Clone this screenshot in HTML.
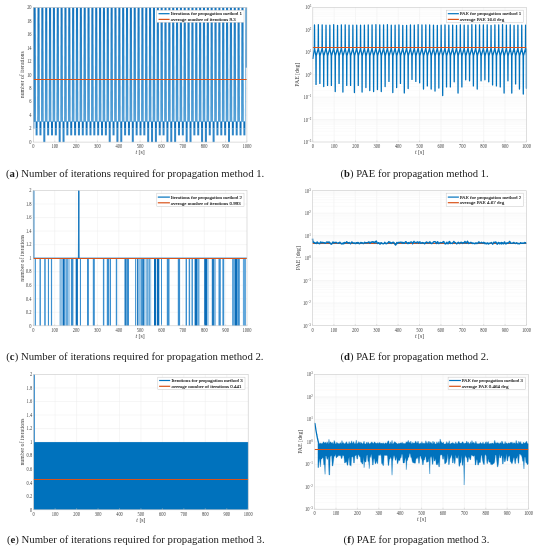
<!DOCTYPE html>
<html><head><meta charset="utf-8"><style>
html,body{margin:0;padding:0;background:#fff;width:537px;height:550px;overflow:hidden}
svg{display:block}
.tk{font-family:'Liberation Serif', serif;font-size:5.6px;fill:#444}
.lb{font-family:'Liberation Serif', serif;font-size:5.8px;fill:#3a3a3a}
.lg{font-family:'Liberation Serif', serif;font-size:5.03px;fill:#222;stroke:#222;stroke-width:0.12px}
.cap{font-family:'Liberation Serif', serif;font-size:10.2px;fill:#1a1a1a}
</style></head><body>
<svg width="537" height="550" viewBox="0 0 537 550">
<g>
<rect width="537" height="550" fill="#fff"/>
<line x1="54.75" y1="7.4" x2="54.75" y2="142.1" stroke="#ececec" stroke-width="0.5"/>
<line x1="76.1" y1="7.4" x2="76.1" y2="142.1" stroke="#ececec" stroke-width="0.5"/>
<line x1="97.45" y1="7.4" x2="97.45" y2="142.1" stroke="#ececec" stroke-width="0.5"/>
<line x1="118.8" y1="7.4" x2="118.8" y2="142.1" stroke="#ececec" stroke-width="0.5"/>
<line x1="140.15" y1="7.4" x2="140.15" y2="142.1" stroke="#ececec" stroke-width="0.5"/>
<line x1="161.5" y1="7.4" x2="161.5" y2="142.1" stroke="#ececec" stroke-width="0.5"/>
<line x1="182.85" y1="7.4" x2="182.85" y2="142.1" stroke="#ececec" stroke-width="0.5"/>
<line x1="204.2" y1="7.4" x2="204.2" y2="142.1" stroke="#ececec" stroke-width="0.5"/>
<line x1="225.55" y1="7.4" x2="225.55" y2="142.1" stroke="#ececec" stroke-width="0.5"/>
<line x1="33.4" y1="128.63" x2="246.9" y2="128.63" stroke="#ececec" stroke-width="0.5"/>
<line x1="33.4" y1="115.16" x2="246.9" y2="115.16" stroke="#ececec" stroke-width="0.5"/>
<line x1="33.4" y1="101.69" x2="246.9" y2="101.69" stroke="#ececec" stroke-width="0.5"/>
<line x1="33.4" y1="88.22" x2="246.9" y2="88.22" stroke="#ececec" stroke-width="0.5"/>
<line x1="33.4" y1="74.75" x2="246.9" y2="74.75" stroke="#ececec" stroke-width="0.5"/>
<line x1="33.4" y1="61.28" x2="246.9" y2="61.28" stroke="#ececec" stroke-width="0.5"/>
<line x1="33.4" y1="47.81" x2="246.9" y2="47.81" stroke="#ececec" stroke-width="0.5"/>
<line x1="33.4" y1="34.34" x2="246.9" y2="34.34" stroke="#ececec" stroke-width="0.5"/>
<line x1="33.4" y1="20.87" x2="246.9" y2="20.87" stroke="#ececec" stroke-width="0.5"/>
<defs><linearGradient id="ga" gradientUnits="userSpaceOnUse" x1="0" y1="7.4" x2="0" y2="121.89"><stop offset="0" stop-color="#1473bd"/><stop offset="0.35" stop-color="#2a86c9"/><stop offset="0.63" stop-color="#3b91cf"/><stop offset="0.88" stop-color="#4c9bd4"/><stop offset="1" stop-color="#5aa3d8"/></linearGradient></defs>
<rect x="33.4" y="7.4" width="212.2" height="114.49" fill="url(#ga)"/>
<rect x="245.6" y="7.4" width="1.3" height="60.3" fill="#2a86c9"/>
<polygon points="35.7,7.4 37.5,7.4 37.15,120.89 36.05,120.89" fill="#fff"/>
<rect x="35.6" y="121.89" width="2" height="6.73" fill="#0a6cb8"/>
<rect x="35.6" y="128.63" width="2" height="6.74" fill="#2f86c8"/>
<polygon points="39.55,7.4 41.35,7.4 41,120.89 39.9,120.89" fill="#fff"/>
<rect x="39.45" y="121.89" width="2" height="6.73" fill="#0a6cb8"/>
<rect x="39.45" y="128.63" width="2" height="6.74" fill="#2f86c8"/>
<polygon points="43.4,7.4 45.2,7.4 44.85,120.89 43.75,120.89" fill="#fff"/>
<rect x="43.3" y="121.89" width="2" height="6.73" fill="#0a6cb8"/>
<rect x="43.3" y="128.63" width="2" height="13.47" fill="#2f86c8"/>
<polygon points="47.24,7.4 49.04,7.4 48.69,120.89 47.59,120.89" fill="#fff"/>
<rect x="47.14" y="121.89" width="2" height="6.73" fill="#0a6cb8"/>
<rect x="47.14" y="128.63" width="2" height="6.74" fill="#2f86c8"/>
<polygon points="51.09,7.4 52.89,7.4 52.54,120.89 51.44,120.89" fill="#fff"/>
<rect x="50.99" y="121.89" width="2" height="6.73" fill="#0a6cb8"/>
<rect x="50.99" y="128.63" width="2" height="6.74" fill="#2f86c8"/>
<polygon points="54.94,7.4 56.74,7.4 56.39,120.89 55.29,120.89" fill="#fff"/>
<rect x="54.84" y="121.89" width="2" height="6.73" fill="#0a6cb8"/>
<rect x="54.84" y="128.63" width="2" height="6.74" fill="#2f86c8"/>
<polygon points="58.79,7.4 60.59,7.4 60.24,120.89 59.14,120.89" fill="#fff"/>
<rect x="58.69" y="121.89" width="2" height="6.73" fill="#0a6cb8"/>
<rect x="58.69" y="128.63" width="2" height="13.47" fill="#2f86c8"/>
<polygon points="62.64,7.4 64.44,7.4 64.09,120.89 62.99,120.89" fill="#fff"/>
<rect x="62.54" y="121.89" width="2" height="6.73" fill="#0a6cb8"/>
<rect x="62.54" y="128.63" width="2" height="13.47" fill="#2f86c8"/>
<polygon points="66.48,7.4 68.28,7.4 67.93,120.89 66.83,120.89" fill="#fff"/>
<rect x="66.38" y="121.89" width="2" height="6.73" fill="#0a6cb8"/>
<rect x="66.38" y="128.63" width="2" height="6.74" fill="#2f86c8"/>
<polygon points="70.33,7.4 72.13,7.4 71.78,120.89 70.68,120.89" fill="#fff"/>
<rect x="70.23" y="121.89" width="2" height="6.73" fill="#0a6cb8"/>
<rect x="70.23" y="128.63" width="2" height="6.74" fill="#2f86c8"/>
<polygon points="74.18,7.4 75.98,7.4 75.63,120.89 74.53,120.89" fill="#fff"/>
<rect x="74.08" y="121.89" width="2" height="6.73" fill="#0a6cb8"/>
<rect x="74.08" y="128.63" width="2" height="6.74" fill="#2f86c8"/>
<polygon points="78.03,7.4 79.83,7.4 79.48,120.89 78.38,120.89" fill="#fff"/>
<rect x="77.93" y="121.89" width="2" height="6.73" fill="#0a6cb8"/>
<rect x="77.93" y="128.63" width="2" height="6.74" fill="#2f86c8"/>
<polygon points="81.88,7.4 83.68,7.4 83.33,120.89 82.23,120.89" fill="#fff"/>
<rect x="81.78" y="121.89" width="2" height="6.73" fill="#0a6cb8"/>
<rect x="81.78" y="128.63" width="2" height="6.74" fill="#2f86c8"/>
<polygon points="85.72,7.4 87.52,7.4 87.17,120.89 86.07,120.89" fill="#fff"/>
<rect x="85.62" y="121.89" width="2" height="6.73" fill="#0a6cb8"/>
<rect x="85.62" y="128.63" width="2" height="6.74" fill="#2f86c8"/>
<polygon points="89.57,7.4 91.37,7.4 91.02,120.89 89.92,120.89" fill="#fff"/>
<rect x="89.47" y="121.89" width="2" height="6.73" fill="#0a6cb8"/>
<rect x="89.47" y="128.63" width="2" height="6.74" fill="#2f86c8"/>
<polygon points="93.42,7.4 95.22,7.4 94.87,120.89 93.77,120.89" fill="#fff"/>
<rect x="93.32" y="121.89" width="2" height="6.73" fill="#0a6cb8"/>
<rect x="93.32" y="128.63" width="2" height="6.74" fill="#2f86c8"/>
<polygon points="97.27,7.4 99.07,7.4 98.72,120.89 97.62,120.89" fill="#fff"/>
<rect x="97.17" y="121.89" width="2" height="6.73" fill="#0a6cb8"/>
<rect x="97.17" y="128.63" width="2" height="6.74" fill="#2f86c8"/>
<polygon points="101.12,7.4 102.92,7.4 102.57,120.89 101.47,120.89" fill="#fff"/>
<rect x="101.02" y="121.89" width="2" height="6.73" fill="#0a6cb8"/>
<rect x="101.02" y="128.63" width="2" height="6.74" fill="#2f86c8"/>
<polygon points="104.96,7.4 106.76,7.4 106.41,120.89 105.31,120.89" fill="#fff"/>
<rect x="104.86" y="121.89" width="2" height="6.73" fill="#0a6cb8"/>
<rect x="104.86" y="128.63" width="2" height="6.74" fill="#2f86c8"/>
<polygon points="108.81,7.4 110.61,7.4 110.26,120.89 109.16,120.89" fill="#fff"/>
<rect x="108.71" y="121.89" width="2" height="6.73" fill="#0a6cb8"/>
<rect x="108.71" y="128.63" width="2" height="13.47" fill="#2f86c8"/>
<polygon points="112.66,7.4 114.46,7.4 114.11,120.89 113.01,120.89" fill="#fff"/>
<rect x="112.56" y="121.89" width="2" height="6.73" fill="#0a6cb8"/>
<rect x="112.56" y="128.63" width="2" height="6.74" fill="#2f86c8"/>
<polygon points="116.51,7.4 118.31,7.4 117.96,120.89 116.86,120.89" fill="#fff"/>
<rect x="116.41" y="121.89" width="2" height="6.73" fill="#0a6cb8"/>
<rect x="116.41" y="128.63" width="2" height="13.47" fill="#2f86c8"/>
<polygon points="120.36,7.4 122.16,7.4 121.81,120.89 120.71,120.89" fill="#fff"/>
<rect x="120.26" y="121.89" width="2" height="6.73" fill="#0a6cb8"/>
<rect x="120.26" y="128.63" width="2" height="13.47" fill="#2f86c8"/>
<polygon points="124.2,7.4 126,7.4 125.65,120.89 124.55,120.89" fill="#fff"/>
<rect x="124.1" y="121.89" width="2" height="6.73" fill="#0a6cb8"/>
<rect x="124.1" y="128.63" width="2" height="6.74" fill="#2f86c8"/>
<polygon points="128.05,7.4 129.85,7.4 129.5,120.89 128.4,120.89" fill="#fff"/>
<rect x="127.95" y="121.89" width="2" height="6.73" fill="#0a6cb8"/>
<rect x="127.95" y="128.63" width="2" height="6.74" fill="#2f86c8"/>
<polygon points="131.9,7.4 133.7,7.4 133.35,120.89 132.25,120.89" fill="#fff"/>
<rect x="131.8" y="121.89" width="2" height="6.73" fill="#0a6cb8"/>
<rect x="131.8" y="128.63" width="2" height="13.47" fill="#2f86c8"/>
<polygon points="135.75,7.4 137.55,7.4 137.2,120.89 136.1,120.89" fill="#fff"/>
<rect x="135.65" y="121.89" width="2" height="6.73" fill="#0a6cb8"/>
<rect x="135.65" y="128.63" width="2" height="6.74" fill="#2f86c8"/>
<polygon points="139.6,7.4 141.4,7.4 141.05,120.89 139.95,120.89" fill="#fff"/>
<rect x="139.5" y="121.89" width="2" height="6.73" fill="#0a6cb8"/>
<rect x="139.5" y="128.63" width="2" height="6.74" fill="#2f86c8"/>
<polygon points="143.44,7.4 145.24,7.4 144.89,120.89 143.79,120.89" fill="#fff"/>
<rect x="143.34" y="121.89" width="2" height="6.73" fill="#0a6cb8"/>
<rect x="143.34" y="128.63" width="2" height="6.74" fill="#2f86c8"/>
<polygon points="147.29,7.4 149.09,7.4 148.74,120.89 147.64,120.89" fill="#fff"/>
<rect x="147.19" y="121.89" width="2" height="6.73" fill="#0a6cb8"/>
<rect x="147.19" y="128.63" width="2" height="13.47" fill="#2f86c8"/>
<polygon points="151.14,7.4 152.94,7.4 152.59,120.89 151.49,120.89" fill="#fff"/>
<rect x="151.04" y="121.89" width="2" height="6.73" fill="#0a6cb8"/>
<rect x="151.04" y="128.63" width="2" height="13.47" fill="#2f86c8"/>
<polygon points="154.99,7.4 156.79,7.4 156.44,120.89 155.34,120.89" fill="#fff"/>
<rect x="154.89" y="121.89" width="2" height="6.73" fill="#0a6cb8"/>
<rect x="154.89" y="128.63" width="2" height="13.47" fill="#2f86c8"/>
<polygon points="158.84,7.4 160.64,7.4 160.29,120.89 159.19,120.89" fill="#fff"/>
<rect x="158.74" y="121.89" width="2" height="6.73" fill="#0a6cb8"/>
<rect x="158.74" y="128.63" width="2" height="6.74" fill="#2f86c8"/>
<polygon points="162.68,7.4 164.48,7.4 164.13,120.89 163.03,120.89" fill="#fff"/>
<rect x="162.58" y="121.89" width="2" height="6.73" fill="#0a6cb8"/>
<rect x="162.58" y="128.63" width="2" height="6.74" fill="#2f86c8"/>
<polygon points="166.53,7.4 168.33,7.4 167.98,120.89 166.88,120.89" fill="#fff"/>
<rect x="166.43" y="121.89" width="2" height="6.73" fill="#0a6cb8"/>
<rect x="166.43" y="128.63" width="2" height="13.47" fill="#2f86c8"/>
<polygon points="170.38,7.4 172.18,7.4 171.83,120.89 170.73,120.89" fill="#fff"/>
<rect x="170.28" y="121.89" width="2" height="6.73" fill="#0a6cb8"/>
<rect x="170.28" y="128.63" width="2" height="13.47" fill="#2f86c8"/>
<polygon points="174.23,7.4 176.03,7.4 175.68,120.89 174.58,120.89" fill="#fff"/>
<rect x="174.13" y="121.89" width="2" height="6.73" fill="#0a6cb8"/>
<rect x="174.13" y="128.63" width="2" height="13.47" fill="#2f86c8"/>
<polygon points="178.08,7.4 179.88,7.4 179.53,120.89 178.43,120.89" fill="#fff"/>
<rect x="177.98" y="121.89" width="2" height="6.73" fill="#0a6cb8"/>
<rect x="177.98" y="128.63" width="2" height="6.74" fill="#2f86c8"/>
<polygon points="181.92,7.4 183.72,7.4 183.37,120.89 182.27,120.89" fill="#fff"/>
<rect x="181.82" y="121.89" width="2" height="6.73" fill="#0a6cb8"/>
<rect x="181.82" y="128.63" width="2" height="6.74" fill="#2f86c8"/>
<polygon points="185.77,7.4 187.57,7.4 187.22,120.89 186.12,120.89" fill="#fff"/>
<rect x="185.67" y="121.89" width="2" height="6.73" fill="#0a6cb8"/>
<rect x="185.67" y="128.63" width="2" height="13.47" fill="#2f86c8"/>
<polygon points="189.62,7.4 191.42,7.4 191.07,120.89 189.97,120.89" fill="#fff"/>
<rect x="189.52" y="121.89" width="2" height="6.73" fill="#0a6cb8"/>
<rect x="189.52" y="128.63" width="2" height="13.47" fill="#2f86c8"/>
<polygon points="193.47,7.4 195.27,7.4 194.92,120.89 193.82,120.89" fill="#fff"/>
<rect x="193.37" y="121.89" width="2" height="6.73" fill="#0a6cb8"/>
<rect x="193.37" y="128.63" width="2" height="6.74" fill="#2f86c8"/>
<polygon points="197.32,7.4 199.12,7.4 198.77,120.89 197.67,120.89" fill="#fff"/>
<rect x="197.22" y="121.89" width="2" height="6.73" fill="#0a6cb8"/>
<rect x="197.22" y="128.63" width="2" height="6.74" fill="#2f86c8"/>
<polygon points="201.16,7.4 202.96,7.4 202.61,120.89 201.51,120.89" fill="#fff"/>
<rect x="201.06" y="121.89" width="2" height="6.73" fill="#0a6cb8"/>
<rect x="201.06" y="128.63" width="2" height="13.47" fill="#2f86c8"/>
<polygon points="205.01,7.4 206.81,7.4 206.46,120.89 205.36,120.89" fill="#fff"/>
<rect x="204.91" y="121.89" width="2" height="6.73" fill="#0a6cb8"/>
<rect x="204.91" y="128.63" width="2" height="13.47" fill="#2f86c8"/>
<polygon points="208.86,7.4 210.66,7.4 210.31,120.89 209.21,120.89" fill="#fff"/>
<rect x="208.76" y="121.89" width="2" height="6.73" fill="#0a6cb8"/>
<rect x="208.76" y="128.63" width="2" height="6.74" fill="#2f86c8"/>
<polygon points="212.71,7.4 214.51,7.4 214.16,120.89 213.06,120.89" fill="#fff"/>
<rect x="212.61" y="121.89" width="2" height="6.73" fill="#0a6cb8"/>
<rect x="212.61" y="128.63" width="2" height="13.47" fill="#2f86c8"/>
<polygon points="216.56,7.4 218.36,7.4 218.01,120.89 216.91,120.89" fill="#fff"/>
<rect x="216.46" y="121.89" width="2" height="6.73" fill="#0a6cb8"/>
<rect x="216.46" y="128.63" width="2" height="6.74" fill="#2f86c8"/>
<polygon points="220.4,7.4 222.2,7.4 221.85,120.89 220.75,120.89" fill="#fff"/>
<rect x="220.3" y="121.89" width="2" height="6.73" fill="#0a6cb8"/>
<rect x="220.3" y="128.63" width="2" height="6.74" fill="#2f86c8"/>
<polygon points="224.25,7.4 226.05,7.4 225.7,120.89 224.6,120.89" fill="#fff"/>
<rect x="224.15" y="121.89" width="2" height="6.73" fill="#0a6cb8"/>
<rect x="224.15" y="128.63" width="2" height="6.74" fill="#2f86c8"/>
<polygon points="228.1,7.4 229.9,7.4 229.55,120.89 228.45,120.89" fill="#fff"/>
<rect x="228" y="121.89" width="2" height="6.73" fill="#0a6cb8"/>
<rect x="228" y="128.63" width="2" height="13.47" fill="#2f86c8"/>
<polygon points="231.95,7.4 233.75,7.4 233.4,120.89 232.3,120.89" fill="#fff"/>
<rect x="231.85" y="121.89" width="2" height="6.73" fill="#0a6cb8"/>
<rect x="231.85" y="128.63" width="2" height="6.74" fill="#2f86c8"/>
<polygon points="235.8,7.4 237.6,7.4 237.25,120.89 236.15,120.89" fill="#fff"/>
<rect x="235.7" y="121.89" width="2" height="6.73" fill="#0a6cb8"/>
<rect x="235.7" y="128.63" width="2" height="6.74" fill="#2f86c8"/>
<polygon points="239.64,7.4 241.44,7.4 241.09,120.89 239.99,120.89" fill="#fff"/>
<rect x="239.54" y="121.89" width="2" height="6.73" fill="#0a6cb8"/>
<rect x="239.54" y="128.63" width="2" height="6.74" fill="#2f86c8"/>
<polygon points="243.49,7.4 245.29,7.4 244.94,120.89 243.84,120.89" fill="#fff"/>
<rect x="243.39" y="121.89" width="2" height="6.73" fill="#0a6cb8"/>
<rect x="243.39" y="128.63" width="2" height="6.74" fill="#2f86c8"/>
<rect x="33.4" y="7.4" width="0.9" height="121.23" fill="#0a6cb8"/>
<line x1="33.4" y1="79.5" x2="246.9" y2="79.5" stroke="#d95319" stroke-width="1.0"/>
<rect x="33.4" y="7.4" width="213.5" height="134.7" fill="none" stroke="#c8c8c8" stroke-width="0.6"/>
<line x1="33.4" y1="142.1" x2="33.4" y2="140.6" stroke="#c8c8c8" stroke-width="0.5"/>
<text transform="translate(33.4,148.3) scale(0.8,1)" text-anchor="middle" class="tk">0</text>
<line x1="54.75" y1="142.1" x2="54.75" y2="140.6" stroke="#c8c8c8" stroke-width="0.5"/>
<text transform="translate(54.75,148.3) scale(0.8,1)" text-anchor="middle" class="tk">100</text>
<line x1="76.1" y1="142.1" x2="76.1" y2="140.6" stroke="#c8c8c8" stroke-width="0.5"/>
<text transform="translate(76.1,148.3) scale(0.8,1)" text-anchor="middle" class="tk">200</text>
<line x1="97.45" y1="142.1" x2="97.45" y2="140.6" stroke="#c8c8c8" stroke-width="0.5"/>
<text transform="translate(97.45,148.3) scale(0.8,1)" text-anchor="middle" class="tk">300</text>
<line x1="118.8" y1="142.1" x2="118.8" y2="140.6" stroke="#c8c8c8" stroke-width="0.5"/>
<text transform="translate(118.8,148.3) scale(0.8,1)" text-anchor="middle" class="tk">400</text>
<line x1="140.15" y1="142.1" x2="140.15" y2="140.6" stroke="#c8c8c8" stroke-width="0.5"/>
<text transform="translate(140.15,148.3) scale(0.8,1)" text-anchor="middle" class="tk">500</text>
<line x1="161.5" y1="142.1" x2="161.5" y2="140.6" stroke="#c8c8c8" stroke-width="0.5"/>
<text transform="translate(161.5,148.3) scale(0.8,1)" text-anchor="middle" class="tk">600</text>
<line x1="182.85" y1="142.1" x2="182.85" y2="140.6" stroke="#c8c8c8" stroke-width="0.5"/>
<text transform="translate(182.85,148.3) scale(0.8,1)" text-anchor="middle" class="tk">700</text>
<line x1="204.2" y1="142.1" x2="204.2" y2="140.6" stroke="#c8c8c8" stroke-width="0.5"/>
<text transform="translate(204.2,148.3) scale(0.8,1)" text-anchor="middle" class="tk">800</text>
<line x1="225.55" y1="142.1" x2="225.55" y2="140.6" stroke="#c8c8c8" stroke-width="0.5"/>
<text transform="translate(225.55,148.3) scale(0.8,1)" text-anchor="middle" class="tk">900</text>
<line x1="246.9" y1="142.1" x2="246.9" y2="140.6" stroke="#c8c8c8" stroke-width="0.5"/>
<text transform="translate(246.9,148.3) scale(0.8,1)" text-anchor="middle" class="tk">1000</text>
<text x="140.15" y="154.3" text-anchor="middle" class="lb"><tspan font-style="italic">t</tspan> [s]</text>
<text transform="translate(31.6,143.9) scale(0.8,1)" text-anchor="end" class="tk">0</text>
<text transform="translate(31.6,130.43) scale(0.8,1)" text-anchor="end" class="tk">2</text>
<text transform="translate(31.6,116.96) scale(0.8,1)" text-anchor="end" class="tk">4</text>
<text transform="translate(31.6,103.49) scale(0.8,1)" text-anchor="end" class="tk">6</text>
<text transform="translate(31.6,90.02) scale(0.8,1)" text-anchor="end" class="tk">8</text>
<text transform="translate(31.6,76.55) scale(0.8,1)" text-anchor="end" class="tk">10</text>
<text transform="translate(31.6,63.08) scale(0.8,1)" text-anchor="end" class="tk">12</text>
<text transform="translate(31.6,49.61) scale(0.8,1)" text-anchor="end" class="tk">14</text>
<text transform="translate(31.6,36.14) scale(0.8,1)" text-anchor="end" class="tk">16</text>
<text transform="translate(31.6,22.67) scale(0.8,1)" text-anchor="end" class="tk">18</text>
<text transform="translate(31.6,9.2) scale(0.8,1)" text-anchor="end" class="tk">20</text>
<text transform="translate(23.5,74.75) rotate(-90)" text-anchor="middle" class="lb">number of iterations</text>
<rect x="156.8" y="10.2" width="87.2" height="12.1" fill="#fff" stroke="#c8c8c8" stroke-width="0.5"/>
<line x1="158.5" y1="13.7" x2="169.6" y2="13.7" stroke="#0072bd" stroke-width="1.2"/>
<line x1="158.5" y1="19.4" x2="169.6" y2="19.4" stroke="#d95319" stroke-width="1.2"/>
<text x="170.8" y="15.4" class="lg">Iterations for propagation method 1</text>
<text x="170.8" y="21.1" class="lg">average number of iterations 9.3</text>
<text x="6" y="176.7" textLength="258.3" lengthAdjust="spacingAndGlyphs" class="cap">(<tspan font-weight="bold">a</tspan>) Number of iterations required for propagation method 1.</text>
<line x1="334.16" y1="7.4" x2="334.16" y2="142" stroke="#ececec" stroke-width="0.5"/>
<line x1="355.52" y1="7.4" x2="355.52" y2="142" stroke="#ececec" stroke-width="0.5"/>
<line x1="376.88" y1="7.4" x2="376.88" y2="142" stroke="#ececec" stroke-width="0.5"/>
<line x1="398.24" y1="7.4" x2="398.24" y2="142" stroke="#ececec" stroke-width="0.5"/>
<line x1="419.6" y1="7.4" x2="419.6" y2="142" stroke="#ececec" stroke-width="0.5"/>
<line x1="440.96" y1="7.4" x2="440.96" y2="142" stroke="#ececec" stroke-width="0.5"/>
<line x1="462.32" y1="7.4" x2="462.32" y2="142" stroke="#ececec" stroke-width="0.5"/>
<line x1="483.68" y1="7.4" x2="483.68" y2="142" stroke="#ececec" stroke-width="0.5"/>
<line x1="505.04" y1="7.4" x2="505.04" y2="142" stroke="#ececec" stroke-width="0.5"/>
<line x1="312.8" y1="135.25" x2="526.4" y2="135.25" stroke="#f4f4f4" stroke-width="0.4"/>
<line x1="312.8" y1="131.3" x2="526.4" y2="131.3" stroke="#f4f4f4" stroke-width="0.4"/>
<line x1="312.8" y1="128.49" x2="526.4" y2="128.49" stroke="#f4f4f4" stroke-width="0.4"/>
<line x1="312.8" y1="126.32" x2="526.4" y2="126.32" stroke="#f4f4f4" stroke-width="0.4"/>
<line x1="312.8" y1="124.54" x2="526.4" y2="124.54" stroke="#f4f4f4" stroke-width="0.4"/>
<line x1="312.8" y1="123.04" x2="526.4" y2="123.04" stroke="#f4f4f4" stroke-width="0.4"/>
<line x1="312.8" y1="121.74" x2="526.4" y2="121.74" stroke="#f4f4f4" stroke-width="0.4"/>
<line x1="312.8" y1="120.59" x2="526.4" y2="120.59" stroke="#f4f4f4" stroke-width="0.4"/>
<line x1="312.8" y1="112.81" x2="526.4" y2="112.81" stroke="#f4f4f4" stroke-width="0.4"/>
<line x1="312.8" y1="108.86" x2="526.4" y2="108.86" stroke="#f4f4f4" stroke-width="0.4"/>
<line x1="312.8" y1="106.06" x2="526.4" y2="106.06" stroke="#f4f4f4" stroke-width="0.4"/>
<line x1="312.8" y1="103.89" x2="526.4" y2="103.89" stroke="#f4f4f4" stroke-width="0.4"/>
<line x1="312.8" y1="102.11" x2="526.4" y2="102.11" stroke="#f4f4f4" stroke-width="0.4"/>
<line x1="312.8" y1="100.61" x2="526.4" y2="100.61" stroke="#f4f4f4" stroke-width="0.4"/>
<line x1="312.8" y1="99.31" x2="526.4" y2="99.31" stroke="#f4f4f4" stroke-width="0.4"/>
<line x1="312.8" y1="98.16" x2="526.4" y2="98.16" stroke="#f4f4f4" stroke-width="0.4"/>
<line x1="312.8" y1="90.38" x2="526.4" y2="90.38" stroke="#f4f4f4" stroke-width="0.4"/>
<line x1="312.8" y1="86.43" x2="526.4" y2="86.43" stroke="#f4f4f4" stroke-width="0.4"/>
<line x1="312.8" y1="83.63" x2="526.4" y2="83.63" stroke="#f4f4f4" stroke-width="0.4"/>
<line x1="312.8" y1="81.45" x2="526.4" y2="81.45" stroke="#f4f4f4" stroke-width="0.4"/>
<line x1="312.8" y1="79.68" x2="526.4" y2="79.68" stroke="#f4f4f4" stroke-width="0.4"/>
<line x1="312.8" y1="78.17" x2="526.4" y2="78.17" stroke="#f4f4f4" stroke-width="0.4"/>
<line x1="312.8" y1="76.87" x2="526.4" y2="76.87" stroke="#f4f4f4" stroke-width="0.4"/>
<line x1="312.8" y1="75.73" x2="526.4" y2="75.73" stroke="#f4f4f4" stroke-width="0.4"/>
<line x1="312.8" y1="67.95" x2="526.4" y2="67.95" stroke="#f4f4f4" stroke-width="0.4"/>
<line x1="312.8" y1="64" x2="526.4" y2="64" stroke="#f4f4f4" stroke-width="0.4"/>
<line x1="312.8" y1="61.19" x2="526.4" y2="61.19" stroke="#f4f4f4" stroke-width="0.4"/>
<line x1="312.8" y1="59.02" x2="526.4" y2="59.02" stroke="#f4f4f4" stroke-width="0.4"/>
<line x1="312.8" y1="57.24" x2="526.4" y2="57.24" stroke="#f4f4f4" stroke-width="0.4"/>
<line x1="312.8" y1="55.74" x2="526.4" y2="55.74" stroke="#f4f4f4" stroke-width="0.4"/>
<line x1="312.8" y1="54.44" x2="526.4" y2="54.44" stroke="#f4f4f4" stroke-width="0.4"/>
<line x1="312.8" y1="53.29" x2="526.4" y2="53.29" stroke="#f4f4f4" stroke-width="0.4"/>
<line x1="312.8" y1="45.51" x2="526.4" y2="45.51" stroke="#f4f4f4" stroke-width="0.4"/>
<line x1="312.8" y1="41.56" x2="526.4" y2="41.56" stroke="#f4f4f4" stroke-width="0.4"/>
<line x1="312.8" y1="38.76" x2="526.4" y2="38.76" stroke="#f4f4f4" stroke-width="0.4"/>
<line x1="312.8" y1="36.59" x2="526.4" y2="36.59" stroke="#f4f4f4" stroke-width="0.4"/>
<line x1="312.8" y1="34.81" x2="526.4" y2="34.81" stroke="#f4f4f4" stroke-width="0.4"/>
<line x1="312.8" y1="33.31" x2="526.4" y2="33.31" stroke="#f4f4f4" stroke-width="0.4"/>
<line x1="312.8" y1="32.01" x2="526.4" y2="32.01" stroke="#f4f4f4" stroke-width="0.4"/>
<line x1="312.8" y1="30.86" x2="526.4" y2="30.86" stroke="#f4f4f4" stroke-width="0.4"/>
<line x1="312.8" y1="23.08" x2="526.4" y2="23.08" stroke="#f4f4f4" stroke-width="0.4"/>
<line x1="312.8" y1="19.13" x2="526.4" y2="19.13" stroke="#f4f4f4" stroke-width="0.4"/>
<line x1="312.8" y1="16.33" x2="526.4" y2="16.33" stroke="#f4f4f4" stroke-width="0.4"/>
<line x1="312.8" y1="14.15" x2="526.4" y2="14.15" stroke="#f4f4f4" stroke-width="0.4"/>
<line x1="312.8" y1="12.38" x2="526.4" y2="12.38" stroke="#f4f4f4" stroke-width="0.4"/>
<line x1="312.8" y1="10.87" x2="526.4" y2="10.87" stroke="#f4f4f4" stroke-width="0.4"/>
<line x1="312.8" y1="9.57" x2="526.4" y2="9.57" stroke="#f4f4f4" stroke-width="0.4"/>
<line x1="312.8" y1="8.43" x2="526.4" y2="8.43" stroke="#f4f4f4" stroke-width="0.4"/>
<line x1="312.8" y1="119.57" x2="526.4" y2="119.57" stroke="#ececec" stroke-width="0.5"/>
<line x1="312.8" y1="97.13" x2="526.4" y2="97.13" stroke="#ececec" stroke-width="0.5"/>
<line x1="312.8" y1="74.7" x2="526.4" y2="74.7" stroke="#ececec" stroke-width="0.5"/>
<line x1="312.8" y1="52.27" x2="526.4" y2="52.27" stroke="#ececec" stroke-width="0.5"/>
<line x1="312.8" y1="29.83" x2="526.4" y2="29.83" stroke="#ececec" stroke-width="0.5"/>
<polyline points="312.80,59.02 314.33,48.99 314.50,24.93 314.67,48.99 315.87,55.74 316.04,84.40 316.21,55.74 318.13,48.99 318.17,48.99 318.34,24.74 318.51,48.99 319.71,55.74 319.88,83.40 320.05,55.74 321.96,48.99 322.01,48.99 322.18,24.82 322.35,48.99 323.54,55.74 323.71,86.50 323.88,55.74 325.80,48.99 325.84,48.99 326.01,25.20 326.18,48.99 327.38,55.74 327.55,85.40 327.72,55.74 329.64,48.99 329.68,48.99 329.85,25.14 330.02,48.99 331.22,55.74 331.39,85.40 331.56,55.74 333.48,48.99 333.52,48.99 333.69,24.76 333.86,48.99 335.06,55.74 335.23,91.50 335.40,55.74 337.32,48.99 337.36,48.99 337.53,25.34 337.70,48.99 338.90,55.74 339.07,83.40 339.24,55.74 341.15,48.99 341.20,48.99 341.37,24.79 341.54,48.99 342.73,55.74 342.90,92.10 343.07,55.74 344.99,48.99 345.03,48.99 345.20,24.81 345.37,48.99 346.57,55.74 346.74,85.40 346.91,55.74 348.83,48.99 348.87,48.99 349.04,25.03 349.21,48.99 350.41,55.74 350.58,85.40 350.75,55.74 352.67,48.99 352.71,48.99 352.88,25.14 353.05,48.99 354.25,55.74 354.42,92.50 354.59,55.74 356.51,48.99 356.55,48.99 356.72,25.16 356.89,48.99 358.09,55.74 358.26,85.40 358.43,55.74 360.34,48.99 360.39,48.99 360.56,25.18 360.73,48.99 361.92,55.74 362.09,92.10 362.26,55.74 364.18,48.99 364.22,48.99 364.39,25.05 364.56,48.99 365.76,55.74 365.93,87.50 366.10,55.74 368.02,48.99 368.06,48.99 368.23,25.01 368.40,48.99 369.60,55.74 369.77,90.50 369.94,55.74 371.86,48.99 371.90,48.99 372.07,24.97 372.24,48.99 373.44,55.74 373.61,91.50 373.78,55.74 375.70,48.99 375.74,48.99 375.91,24.68 376.08,48.99 377.28,55.74 377.45,89.50 377.62,55.74 379.53,48.99 379.58,48.99 379.75,24.81 379.92,48.99 381.11,55.74 381.28,91.50 381.45,55.74 383.37,48.99 383.41,48.99 383.58,24.93 383.75,48.99 384.95,55.74 385.12,86.50 385.29,55.74 387.21,48.99 387.25,48.99 387.42,24.68 387.59,48.99 388.79,55.74 388.96,81.40 389.13,55.74 391.05,48.99 391.09,48.99 391.26,25.20 391.43,48.99 392.63,55.74 392.80,92.50 392.97,55.74 394.89,48.99 394.93,48.99 395.10,25.24 395.27,48.99 396.47,55.74 396.64,87.50 396.81,55.74 398.72,48.99 398.77,48.99 398.94,24.93 399.11,48.99 400.30,55.74 400.47,83.40 400.64,55.74 402.56,48.99 402.60,48.99 402.77,25.32 402.94,48.99 404.14,55.74 404.31,92.90 404.48,55.74 406.40,48.99 406.44,48.99 406.61,25.32 406.78,48.99 407.98,55.74 408.15,88.50 408.32,55.74 410.24,48.99 410.28,48.99 410.45,25.00 410.62,48.99 411.82,55.74 411.99,79.40 412.16,55.74 414.08,48.99 414.12,48.99 414.29,25.03 414.46,48.99 415.66,55.74 415.83,81.40 416.00,55.74 417.91,48.99 417.96,48.99 418.13,24.73 418.30,48.99 419.49,55.74 419.66,82.80 419.83,55.74 421.75,48.99 421.79,48.99 421.96,24.92 422.13,48.99 423.33,55.74 423.50,89.00 423.67,55.74 425.59,48.99 425.63,48.99 425.80,25.00 425.97,48.99 427.17,55.74 427.34,85.90 427.51,55.74 429.43,48.99 429.47,48.99 429.64,25.01 429.81,48.99 431.01,55.74 431.18,89.00 431.35,55.74 433.27,48.99 433.31,48.99 433.48,25.18 433.65,48.99 434.85,55.74 435.02,91.00 435.19,55.74 437.10,48.99 437.15,48.99 437.32,25.34 437.49,48.99 438.68,55.74 438.85,88.00 439.02,55.74 440.94,48.99 440.98,48.99 441.15,25.22 441.32,48.99 442.52,55.74 442.69,95.50 442.86,55.74 444.78,48.99 444.82,48.99 444.99,24.88 445.16,48.99 446.36,55.74 446.53,86.90 446.70,55.74 448.62,48.99 448.66,48.99 448.83,25.21 449.00,48.99 450.20,55.74 450.37,86.90 450.54,55.74 452.46,48.99 452.50,48.99 452.67,25.10 452.84,48.99 454.04,55.74 454.21,81.80 454.38,55.74 456.29,48.99 456.34,48.99 456.51,25.34 456.68,48.99 457.87,55.74 458.04,93.10 458.21,55.74 460.13,48.99 460.17,48.99 460.34,24.79 460.51,48.99 461.71,55.74 461.88,86.90 462.05,55.74 463.97,48.99 464.01,48.99 464.18,25.24 464.35,48.99 465.55,55.74 465.72,79.80 465.89,55.74 467.81,48.99 467.85,48.99 468.02,25.17 468.19,48.99 469.39,55.74 469.56,80.80 469.73,55.74 471.65,48.99 471.69,48.99 471.86,24.75 472.03,48.99 473.23,55.74 473.40,85.90 473.57,55.74 475.48,48.99 475.53,48.99 475.70,25.00 475.87,48.99 477.06,55.74 477.23,89.00 477.40,55.74 479.32,48.99 479.36,48.99 479.53,24.78 479.70,48.99 480.90,55.74 481.07,80.80 481.24,55.74 483.16,48.99 483.20,48.99 483.37,24.92 483.54,48.99 484.74,55.74 484.91,79.80 485.08,55.74 487.00,48.99 487.04,48.99 487.21,24.85 487.38,48.99 488.58,55.74 488.75,81.80 488.92,55.74 490.84,48.99 490.88,48.99 491.05,25.29 491.22,48.99 492.42,55.74 492.59,84.90 492.76,55.74 494.67,48.99 494.72,48.99 494.89,24.98 495.06,48.99 496.25,55.74 496.42,85.90 496.59,55.74 498.51,48.99 498.55,48.99 498.72,25.00 498.89,48.99 500.09,55.74 500.26,86.90 500.43,55.74 502.35,48.99 502.39,48.99 502.56,24.76 502.73,48.99 503.93,55.74 504.10,93.10 504.27,55.74 506.19,48.99 506.23,48.99 506.40,25.10 506.57,48.99 507.77,55.74 507.94,80.80 508.11,55.74 510.03,48.99 510.07,48.99 510.24,24.94 510.41,48.99 511.61,55.74 511.78,93.10 511.95,55.74 513.86,48.99 513.91,48.99 514.08,25.31 514.25,48.99 515.44,55.74 515.61,83.90 515.78,55.74 517.70,48.99 517.74,48.99 517.91,25.09 518.08,48.99 519.28,55.74 519.45,89.00 519.62,55.74 521.54,48.99 521.58,48.99 521.75,25.13 521.92,48.99 523.12,55.74 523.29,94.10 523.46,55.74 525.38,48.99 525.42,48.99 525.59,25.25 525.76,48.99 526.40,55.74 526.40,88.30 526.40,55.74 526.40,48.99 526.40,54.44" fill="none" stroke="#0072bd" stroke-width="1.3" stroke-linejoin="round"/>
<line x1="312.8" y1="47.5" x2="526.4" y2="47.5" stroke="#d95319" stroke-width="1.0"/>
<rect x="312.8" y="7.4" width="213.6" height="134.6" fill="none" stroke="#c8c8c8" stroke-width="0.6"/>
<line x1="312.8" y1="142" x2="312.8" y2="140.5" stroke="#c8c8c8" stroke-width="0.5"/>
<text transform="translate(312.8,148.3) scale(0.8,1)" text-anchor="middle" class="tk">0</text>
<line x1="334.16" y1="142" x2="334.16" y2="140.5" stroke="#c8c8c8" stroke-width="0.5"/>
<text transform="translate(334.16,148.3) scale(0.8,1)" text-anchor="middle" class="tk">100</text>
<line x1="355.52" y1="142" x2="355.52" y2="140.5" stroke="#c8c8c8" stroke-width="0.5"/>
<text transform="translate(355.52,148.3) scale(0.8,1)" text-anchor="middle" class="tk">200</text>
<line x1="376.88" y1="142" x2="376.88" y2="140.5" stroke="#c8c8c8" stroke-width="0.5"/>
<text transform="translate(376.88,148.3) scale(0.8,1)" text-anchor="middle" class="tk">300</text>
<line x1="398.24" y1="142" x2="398.24" y2="140.5" stroke="#c8c8c8" stroke-width="0.5"/>
<text transform="translate(398.24,148.3) scale(0.8,1)" text-anchor="middle" class="tk">400</text>
<line x1="419.6" y1="142" x2="419.6" y2="140.5" stroke="#c8c8c8" stroke-width="0.5"/>
<text transform="translate(419.6,148.3) scale(0.8,1)" text-anchor="middle" class="tk">500</text>
<line x1="440.96" y1="142" x2="440.96" y2="140.5" stroke="#c8c8c8" stroke-width="0.5"/>
<text transform="translate(440.96,148.3) scale(0.8,1)" text-anchor="middle" class="tk">600</text>
<line x1="462.32" y1="142" x2="462.32" y2="140.5" stroke="#c8c8c8" stroke-width="0.5"/>
<text transform="translate(462.32,148.3) scale(0.8,1)" text-anchor="middle" class="tk">700</text>
<line x1="483.68" y1="142" x2="483.68" y2="140.5" stroke="#c8c8c8" stroke-width="0.5"/>
<text transform="translate(483.68,148.3) scale(0.8,1)" text-anchor="middle" class="tk">800</text>
<line x1="505.04" y1="142" x2="505.04" y2="140.5" stroke="#c8c8c8" stroke-width="0.5"/>
<text transform="translate(505.04,148.3) scale(0.8,1)" text-anchor="middle" class="tk">900</text>
<line x1="526.4" y1="142" x2="526.4" y2="140.5" stroke="#c8c8c8" stroke-width="0.5"/>
<text transform="translate(526.4,148.3) scale(0.8,1)" text-anchor="middle" class="tk">1000</text>
<text x="419.6" y="154.3" text-anchor="middle" class="lb"><tspan font-style="italic">t</tspan> [s]</text>
<text transform="translate(311.2,144) scale(0.8,1)" text-anchor="end" class="tk">10<tspan dy="-2.0" font-size="3.9px">−3</tspan></text>
<text transform="translate(311.2,121.57) scale(0.8,1)" text-anchor="end" class="tk">10<tspan dy="-2.0" font-size="3.9px">−2</tspan></text>
<text transform="translate(311.2,99.13) scale(0.8,1)" text-anchor="end" class="tk">10<tspan dy="-2.0" font-size="3.9px">−1</tspan></text>
<text transform="translate(311.2,76.7) scale(0.8,1)" text-anchor="end" class="tk">10<tspan dy="-2.0" font-size="3.9px">0</tspan></text>
<text transform="translate(311.2,54.27) scale(0.8,1)" text-anchor="end" class="tk">10<tspan dy="-2.0" font-size="3.9px">1</tspan></text>
<text transform="translate(311.2,31.83) scale(0.8,1)" text-anchor="end" class="tk">10<tspan dy="-2.0" font-size="3.9px">2</tspan></text>
<text transform="translate(311.2,9.4) scale(0.8,1)" text-anchor="end" class="tk">10<tspan dy="-2.0" font-size="3.9px">3</tspan></text>
<text transform="translate(298.8,74.7) rotate(-90)" text-anchor="middle" class="lb">PAE [deg]</text>
<rect x="446.5" y="10.2" width="77.2" height="12.1" fill="#fff" stroke="#c8c8c8" stroke-width="0.5"/>
<line x1="447.8" y1="13.7" x2="458.9" y2="13.7" stroke="#0072bd" stroke-width="1.2"/>
<line x1="447.8" y1="19.4" x2="458.9" y2="19.4" stroke="#d95319" stroke-width="1.2"/>
<text x="459.8" y="15.4" class="lg">PAE for propagation method 1</text>
<text x="459.8" y="21.1" class="lg">average PAE 16.6 deg</text>
<text x="340.5" y="176.7" textLength="148.3" lengthAdjust="spacingAndGlyphs" class="cap">(<tspan font-weight="bold">b</tspan>) PAE for propagation method 1.</text>
<line x1="54.67" y1="190.5" x2="54.67" y2="325.8" stroke="#ececec" stroke-width="0.5"/>
<line x1="76.04" y1="190.5" x2="76.04" y2="325.8" stroke="#ececec" stroke-width="0.5"/>
<line x1="97.41" y1="190.5" x2="97.41" y2="325.8" stroke="#ececec" stroke-width="0.5"/>
<line x1="118.78" y1="190.5" x2="118.78" y2="325.8" stroke="#ececec" stroke-width="0.5"/>
<line x1="140.15" y1="190.5" x2="140.15" y2="325.8" stroke="#ececec" stroke-width="0.5"/>
<line x1="161.52" y1="190.5" x2="161.52" y2="325.8" stroke="#ececec" stroke-width="0.5"/>
<line x1="182.89" y1="190.5" x2="182.89" y2="325.8" stroke="#ececec" stroke-width="0.5"/>
<line x1="204.26" y1="190.5" x2="204.26" y2="325.8" stroke="#ececec" stroke-width="0.5"/>
<line x1="225.63" y1="190.5" x2="225.63" y2="325.8" stroke="#ececec" stroke-width="0.5"/>
<line x1="33.3" y1="312.27" x2="247" y2="312.27" stroke="#ececec" stroke-width="0.5"/>
<line x1="33.3" y1="298.74" x2="247" y2="298.74" stroke="#ececec" stroke-width="0.5"/>
<line x1="33.3" y1="285.21" x2="247" y2="285.21" stroke="#ececec" stroke-width="0.5"/>
<line x1="33.3" y1="271.68" x2="247" y2="271.68" stroke="#ececec" stroke-width="0.5"/>
<line x1="33.3" y1="258.15" x2="247" y2="258.15" stroke="#ececec" stroke-width="0.5"/>
<line x1="33.3" y1="244.62" x2="247" y2="244.62" stroke="#ececec" stroke-width="0.5"/>
<line x1="33.3" y1="231.09" x2="247" y2="231.09" stroke="#ececec" stroke-width="0.5"/>
<line x1="33.3" y1="217.56" x2="247" y2="217.56" stroke="#ececec" stroke-width="0.5"/>
<line x1="33.3" y1="204.03" x2="247" y2="204.03" stroke="#ececec" stroke-width="0.5"/>
<rect x="34.7" y="258.15" width="1.2" height="67.65" fill="#3b8fcf"/>
<rect x="39.5" y="258.15" width="1.4" height="67.65" fill="#3b8fcf"/>
<rect x="44" y="258.15" width="1.9" height="67.65" fill="#62a7db"/>
<rect x="47.9" y="258.15" width="1.1" height="67.65" fill="#3b8fcf"/>
<rect x="50.9" y="258.15" width="1.2" height="67.65" fill="#3b8fcf"/>
<rect x="59.7" y="258.15" width="0.9" height="67.65" fill="#3b8fcf"/>
<rect x="60.6" y="258.15" width="2.2" height="67.65" fill="#93c3e7"/>
<rect x="62.8" y="258.15" width="2" height="67.65" fill="#0a6cb8"/>
<rect x="64.8" y="258.15" width="1.1" height="67.65" fill="#93c3e7"/>
<rect x="65.9" y="258.15" width="2.2" height="67.65" fill="#62a7db"/>
<rect x="68.1" y="258.15" width="1.7" height="67.65" fill="#93c3e7"/>
<rect x="70.9" y="258.15" width="2.5" height="67.65" fill="#3b8fcf"/>
<rect x="75.7" y="258.15" width="2.2" height="67.65" fill="#0a6cb8"/>
<rect x="79.9" y="258.15" width="1.1" height="67.65" fill="#3b8fcf"/>
<rect x="87" y="258.15" width="1.9" height="67.65" fill="#3b8fcf"/>
<rect x="92.8" y="258.15" width="2" height="67.65" fill="#3b8fcf"/>
<rect x="102.9" y="258.15" width="1.4" height="67.65" fill="#3b8fcf"/>
<rect x="106.8" y="258.15" width="2.2" height="67.65" fill="#3b8fcf"/>
<rect x="109.6" y="258.15" width="1.4" height="67.65" fill="#3b8fcf"/>
<rect x="115.8" y="258.15" width="1.4" height="67.65" fill="#3b8fcf"/>
<rect x="124.5" y="258.15" width="2" height="67.65" fill="#1f7bc0"/>
<rect x="126.5" y="258.15" width="2.5" height="67.65" fill="#3b8fcf"/>
<rect x="135.1" y="258.15" width="1.1" height="67.65" fill="#3b8fcf"/>
<rect x="137.1" y="258.15" width="1.4" height="67.65" fill="#0a6cb8"/>
<rect x="138.5" y="258.15" width="2.6" height="67.65" fill="#93c3e7"/>
<rect x="141.1" y="258.15" width="1.1" height="67.65" fill="#3b8fcf"/>
<rect x="142.2" y="258.15" width="2.3" height="67.65" fill="#1f7bc0"/>
<rect x="144.5" y="258.15" width="1.1" height="67.65" fill="#93c3e7"/>
<rect x="146.4" y="258.15" width="1.4" height="67.65" fill="#3b8fcf"/>
<rect x="147.8" y="258.15" width="1.4" height="67.65" fill="#93c3e7"/>
<rect x="149.2" y="258.15" width="1.1" height="67.65" fill="#3b8fcf"/>
<rect x="150.3" y="258.15" width="0.9" height="67.65" fill="#93c3e7"/>
<rect x="154" y="258.15" width="2.2" height="67.65" fill="#0a6cb8"/>
<rect x="157" y="258.15" width="2.3" height="67.65" fill="#0a6cb8"/>
<rect x="161" y="258.15" width="1" height="67.65" fill="#3b8fcf"/>
<rect x="166.8" y="258.15" width="2.7" height="67.65" fill="#3b8fcf"/>
<rect x="177.8" y="258.15" width="2.3" height="67.65" fill="#3b8fcf"/>
<rect x="185.6" y="258.15" width="1.4" height="67.65" fill="#3b8fcf"/>
<rect x="188.7" y="258.15" width="1.4" height="67.65" fill="#3b8fcf"/>
<rect x="191.5" y="258.15" width="1.4" height="67.65" fill="#3b8fcf"/>
<rect x="194.6" y="258.15" width="2.5" height="67.65" fill="#0a6cb8"/>
<rect x="197.1" y="258.15" width="2.4" height="67.65" fill="#62a7db"/>
<rect x="204.2" y="258.15" width="2.8" height="67.65" fill="#0a6cb8"/>
<rect x="207" y="258.15" width="1.7" height="67.65" fill="#93c3e7"/>
<rect x="211.8" y="258.15" width="2.8" height="67.65" fill="#1f7bc0"/>
<rect x="214.6" y="258.15" width="1.4" height="67.65" fill="#93c3e7"/>
<rect x="218.5" y="258.15" width="2.3" height="67.65" fill="#3b8fcf"/>
<rect x="222.4" y="258.15" width="1.8" height="67.65" fill="#3b8fcf"/>
<rect x="232" y="258.15" width="2.8" height="67.65" fill="#62a7db"/>
<rect x="234.8" y="258.15" width="2.5" height="67.65" fill="#0a6cb8"/>
<rect x="237.3" y="258.15" width="2.5" height="67.65" fill="#3b8fcf"/>
<rect x="242.9" y="258.15" width="3.1" height="67.65" fill="#62a7db"/>
<polyline points="33.30,190.50 33.41,190.50 33.51,258.15 78.18,258.15 78.39,258.15 78.70,190.50 78.92,258.15 247.00,258.15" fill="none" stroke="#0072bd" stroke-width="0.9" stroke-linejoin="round"/>
<line x1="33.8" y1="190.5" x2="33.8" y2="258.15" stroke="#2a84c7" stroke-width="1.3"/>
<line x1="78.7" y1="190.5" x2="78.7" y2="258.15" stroke="#1f7bc0" stroke-width="1.3"/>
<line x1="33.3" y1="258.5" x2="247" y2="258.5" stroke="#d95319" stroke-width="1.0"/>
<rect x="33.3" y="190.5" width="213.7" height="135.3" fill="none" stroke="#c8c8c8" stroke-width="0.6"/>
<line x1="33.3" y1="325.8" x2="33.3" y2="324.3" stroke="#c8c8c8" stroke-width="0.5"/>
<text transform="translate(33.3,332) scale(0.8,1)" text-anchor="middle" class="tk">0</text>
<line x1="54.67" y1="325.8" x2="54.67" y2="324.3" stroke="#c8c8c8" stroke-width="0.5"/>
<text transform="translate(54.67,332) scale(0.8,1)" text-anchor="middle" class="tk">100</text>
<line x1="76.04" y1="325.8" x2="76.04" y2="324.3" stroke="#c8c8c8" stroke-width="0.5"/>
<text transform="translate(76.04,332) scale(0.8,1)" text-anchor="middle" class="tk">200</text>
<line x1="97.41" y1="325.8" x2="97.41" y2="324.3" stroke="#c8c8c8" stroke-width="0.5"/>
<text transform="translate(97.41,332) scale(0.8,1)" text-anchor="middle" class="tk">300</text>
<line x1="118.78" y1="325.8" x2="118.78" y2="324.3" stroke="#c8c8c8" stroke-width="0.5"/>
<text transform="translate(118.78,332) scale(0.8,1)" text-anchor="middle" class="tk">400</text>
<line x1="140.15" y1="325.8" x2="140.15" y2="324.3" stroke="#c8c8c8" stroke-width="0.5"/>
<text transform="translate(140.15,332) scale(0.8,1)" text-anchor="middle" class="tk">500</text>
<line x1="161.52" y1="325.8" x2="161.52" y2="324.3" stroke="#c8c8c8" stroke-width="0.5"/>
<text transform="translate(161.52,332) scale(0.8,1)" text-anchor="middle" class="tk">600</text>
<line x1="182.89" y1="325.8" x2="182.89" y2="324.3" stroke="#c8c8c8" stroke-width="0.5"/>
<text transform="translate(182.89,332) scale(0.8,1)" text-anchor="middle" class="tk">700</text>
<line x1="204.26" y1="325.8" x2="204.26" y2="324.3" stroke="#c8c8c8" stroke-width="0.5"/>
<text transform="translate(204.26,332) scale(0.8,1)" text-anchor="middle" class="tk">800</text>
<line x1="225.63" y1="325.8" x2="225.63" y2="324.3" stroke="#c8c8c8" stroke-width="0.5"/>
<text transform="translate(225.63,332) scale(0.8,1)" text-anchor="middle" class="tk">900</text>
<line x1="247" y1="325.8" x2="247" y2="324.3" stroke="#c8c8c8" stroke-width="0.5"/>
<text transform="translate(247,332) scale(0.8,1)" text-anchor="middle" class="tk">1000</text>
<text x="140.15" y="338" text-anchor="middle" class="lb"><tspan font-style="italic">t</tspan> [s]</text>
<text transform="translate(31.6,327.6) scale(0.8,1)" text-anchor="end" class="tk">0</text>
<text transform="translate(31.6,314.07) scale(0.8,1)" text-anchor="end" class="tk">0.2</text>
<text transform="translate(31.6,300.54) scale(0.8,1)" text-anchor="end" class="tk">0.4</text>
<text transform="translate(31.6,287.01) scale(0.8,1)" text-anchor="end" class="tk">0.6</text>
<text transform="translate(31.6,273.48) scale(0.8,1)" text-anchor="end" class="tk">0.8</text>
<text transform="translate(31.6,259.95) scale(0.8,1)" text-anchor="end" class="tk">1</text>
<text transform="translate(31.6,246.42) scale(0.8,1)" text-anchor="end" class="tk">1.2</text>
<text transform="translate(31.6,232.89) scale(0.8,1)" text-anchor="end" class="tk">1.4</text>
<text transform="translate(31.6,219.36) scale(0.8,1)" text-anchor="end" class="tk">1.6</text>
<text transform="translate(31.6,205.83) scale(0.8,1)" text-anchor="end" class="tk">1.8</text>
<text transform="translate(31.6,192.3) scale(0.8,1)" text-anchor="end" class="tk">2</text>
<text transform="translate(23.5,258.15) rotate(-90)" text-anchor="middle" class="lb">number of iterations</text>
<rect x="156.8" y="193.2" width="87.2" height="13.1" fill="#fff" stroke="#c8c8c8" stroke-width="0.5"/>
<line x1="157.8" y1="197.1" x2="169.9" y2="197.1" stroke="#0072bd" stroke-width="1.2"/>
<line x1="157.8" y1="202.8" x2="169.9" y2="202.8" stroke="#d95319" stroke-width="1.2"/>
<text x="170.8" y="198.8" class="lg">Iterations for propagation method 2</text>
<text x="170.8" y="204.5" class="lg">average number of iterations 0.993</text>
<text x="6.3" y="360" textLength="257.2" lengthAdjust="spacingAndGlyphs" class="cap">(<tspan font-weight="bold">c</tspan>) Number of iterations required for propagation method 2.</text>
<line x1="333.9" y1="190.7" x2="333.9" y2="325.5" stroke="#ececec" stroke-width="0.5"/>
<line x1="355.3" y1="190.7" x2="355.3" y2="325.5" stroke="#ececec" stroke-width="0.5"/>
<line x1="376.7" y1="190.7" x2="376.7" y2="325.5" stroke="#ececec" stroke-width="0.5"/>
<line x1="398.1" y1="190.7" x2="398.1" y2="325.5" stroke="#ececec" stroke-width="0.5"/>
<line x1="419.5" y1="190.7" x2="419.5" y2="325.5" stroke="#ececec" stroke-width="0.5"/>
<line x1="440.9" y1="190.7" x2="440.9" y2="325.5" stroke="#ececec" stroke-width="0.5"/>
<line x1="462.3" y1="190.7" x2="462.3" y2="325.5" stroke="#ececec" stroke-width="0.5"/>
<line x1="483.7" y1="190.7" x2="483.7" y2="325.5" stroke="#ececec" stroke-width="0.5"/>
<line x1="505.1" y1="190.7" x2="505.1" y2="325.5" stroke="#ececec" stroke-width="0.5"/>
<line x1="312.5" y1="318.74" x2="526.5" y2="318.74" stroke="#f4f4f4" stroke-width="0.4"/>
<line x1="312.5" y1="314.78" x2="526.5" y2="314.78" stroke="#f4f4f4" stroke-width="0.4"/>
<line x1="312.5" y1="311.97" x2="526.5" y2="311.97" stroke="#f4f4f4" stroke-width="0.4"/>
<line x1="312.5" y1="309.8" x2="526.5" y2="309.8" stroke="#f4f4f4" stroke-width="0.4"/>
<line x1="312.5" y1="308.02" x2="526.5" y2="308.02" stroke="#f4f4f4" stroke-width="0.4"/>
<line x1="312.5" y1="306.51" x2="526.5" y2="306.51" stroke="#f4f4f4" stroke-width="0.4"/>
<line x1="312.5" y1="305.21" x2="526.5" y2="305.21" stroke="#f4f4f4" stroke-width="0.4"/>
<line x1="312.5" y1="304.06" x2="526.5" y2="304.06" stroke="#f4f4f4" stroke-width="0.4"/>
<line x1="312.5" y1="296.27" x2="526.5" y2="296.27" stroke="#f4f4f4" stroke-width="0.4"/>
<line x1="312.5" y1="292.31" x2="526.5" y2="292.31" stroke="#f4f4f4" stroke-width="0.4"/>
<line x1="312.5" y1="289.51" x2="526.5" y2="289.51" stroke="#f4f4f4" stroke-width="0.4"/>
<line x1="312.5" y1="287.33" x2="526.5" y2="287.33" stroke="#f4f4f4" stroke-width="0.4"/>
<line x1="312.5" y1="285.55" x2="526.5" y2="285.55" stroke="#f4f4f4" stroke-width="0.4"/>
<line x1="312.5" y1="284.05" x2="526.5" y2="284.05" stroke="#f4f4f4" stroke-width="0.4"/>
<line x1="312.5" y1="282.74" x2="526.5" y2="282.74" stroke="#f4f4f4" stroke-width="0.4"/>
<line x1="312.5" y1="281.59" x2="526.5" y2="281.59" stroke="#f4f4f4" stroke-width="0.4"/>
<line x1="312.5" y1="273.8" x2="526.5" y2="273.8" stroke="#f4f4f4" stroke-width="0.4"/>
<line x1="312.5" y1="269.85" x2="526.5" y2="269.85" stroke="#f4f4f4" stroke-width="0.4"/>
<line x1="312.5" y1="267.04" x2="526.5" y2="267.04" stroke="#f4f4f4" stroke-width="0.4"/>
<line x1="312.5" y1="264.86" x2="526.5" y2="264.86" stroke="#f4f4f4" stroke-width="0.4"/>
<line x1="312.5" y1="263.08" x2="526.5" y2="263.08" stroke="#f4f4f4" stroke-width="0.4"/>
<line x1="312.5" y1="261.58" x2="526.5" y2="261.58" stroke="#f4f4f4" stroke-width="0.4"/>
<line x1="312.5" y1="260.28" x2="526.5" y2="260.28" stroke="#f4f4f4" stroke-width="0.4"/>
<line x1="312.5" y1="259.13" x2="526.5" y2="259.13" stroke="#f4f4f4" stroke-width="0.4"/>
<line x1="312.5" y1="251.34" x2="526.5" y2="251.34" stroke="#f4f4f4" stroke-width="0.4"/>
<line x1="312.5" y1="247.38" x2="526.5" y2="247.38" stroke="#f4f4f4" stroke-width="0.4"/>
<line x1="312.5" y1="244.57" x2="526.5" y2="244.57" stroke="#f4f4f4" stroke-width="0.4"/>
<line x1="312.5" y1="242.4" x2="526.5" y2="242.4" stroke="#f4f4f4" stroke-width="0.4"/>
<line x1="312.5" y1="240.62" x2="526.5" y2="240.62" stroke="#f4f4f4" stroke-width="0.4"/>
<line x1="312.5" y1="239.11" x2="526.5" y2="239.11" stroke="#f4f4f4" stroke-width="0.4"/>
<line x1="312.5" y1="237.81" x2="526.5" y2="237.81" stroke="#f4f4f4" stroke-width="0.4"/>
<line x1="312.5" y1="236.66" x2="526.5" y2="236.66" stroke="#f4f4f4" stroke-width="0.4"/>
<line x1="312.5" y1="228.87" x2="526.5" y2="228.87" stroke="#f4f4f4" stroke-width="0.4"/>
<line x1="312.5" y1="224.91" x2="526.5" y2="224.91" stroke="#f4f4f4" stroke-width="0.4"/>
<line x1="312.5" y1="222.11" x2="526.5" y2="222.11" stroke="#f4f4f4" stroke-width="0.4"/>
<line x1="312.5" y1="219.93" x2="526.5" y2="219.93" stroke="#f4f4f4" stroke-width="0.4"/>
<line x1="312.5" y1="218.15" x2="526.5" y2="218.15" stroke="#f4f4f4" stroke-width="0.4"/>
<line x1="312.5" y1="216.65" x2="526.5" y2="216.65" stroke="#f4f4f4" stroke-width="0.4"/>
<line x1="312.5" y1="215.34" x2="526.5" y2="215.34" stroke="#f4f4f4" stroke-width="0.4"/>
<line x1="312.5" y1="214.19" x2="526.5" y2="214.19" stroke="#f4f4f4" stroke-width="0.4"/>
<line x1="312.5" y1="206.4" x2="526.5" y2="206.4" stroke="#f4f4f4" stroke-width="0.4"/>
<line x1="312.5" y1="202.45" x2="526.5" y2="202.45" stroke="#f4f4f4" stroke-width="0.4"/>
<line x1="312.5" y1="199.64" x2="526.5" y2="199.64" stroke="#f4f4f4" stroke-width="0.4"/>
<line x1="312.5" y1="197.46" x2="526.5" y2="197.46" stroke="#f4f4f4" stroke-width="0.4"/>
<line x1="312.5" y1="195.68" x2="526.5" y2="195.68" stroke="#f4f4f4" stroke-width="0.4"/>
<line x1="312.5" y1="194.18" x2="526.5" y2="194.18" stroke="#f4f4f4" stroke-width="0.4"/>
<line x1="312.5" y1="192.88" x2="526.5" y2="192.88" stroke="#f4f4f4" stroke-width="0.4"/>
<line x1="312.5" y1="191.73" x2="526.5" y2="191.73" stroke="#f4f4f4" stroke-width="0.4"/>
<line x1="312.5" y1="303.03" x2="526.5" y2="303.03" stroke="#ececec" stroke-width="0.5"/>
<line x1="312.5" y1="280.57" x2="526.5" y2="280.57" stroke="#ececec" stroke-width="0.5"/>
<line x1="312.5" y1="258.1" x2="526.5" y2="258.1" stroke="#ececec" stroke-width="0.5"/>
<line x1="312.5" y1="235.63" x2="526.5" y2="235.63" stroke="#ececec" stroke-width="0.5"/>
<line x1="312.5" y1="213.17" x2="526.5" y2="213.17" stroke="#ececec" stroke-width="0.5"/>
<line x1="312.5" y1="243.5" x2="526.5" y2="243.5" stroke="#d95319" stroke-width="1.0"/>
<polyline points="312.50,238.70 312.93,242.40 313.36,241.93 313.78,242.16 314.21,242.33 314.64,243.04 315.07,242.74 315.50,243.26 315.92,243.31 316.35,243.43 316.78,242.65 317.21,242.00 317.64,242.42 318.06,243.06 318.49,243.24 318.92,243.50 319.35,243.37 319.78,243.65 320.20,242.43 320.63,242.00 321.06,242.09 321.49,242.70 321.92,243.05 322.34,242.35 322.77,242.38 323.20,242.40 323.63,242.84 324.06,242.72 324.48,242.68 324.91,243.23 325.34,243.19 325.77,243.28 326.20,242.43 326.62,242.18 327.05,242.02 327.48,242.21 327.91,242.58 328.34,242.18 328.76,242.43 329.19,242.08 329.62,242.96 330.05,242.83 330.48,243.68 330.90,243.96 331.33,244.20 331.76,243.91 332.19,243.08 332.62,242.13 333.04,242.10 333.47,242.40 333.90,243.16 334.33,242.67 334.76,242.50 335.18,242.65 335.61,242.57 336.04,242.31 336.47,242.62 336.90,242.92 337.32,243.10 337.75,243.10 338.18,242.98 338.61,243.31 339.04,242.55 339.46,242.58 339.89,242.22 340.32,242.81 340.75,242.93 341.18,243.71 341.60,243.91 342.03,243.73 342.46,243.78 342.89,243.04 343.32,243.83 343.74,242.75 344.17,243.38 344.60,242.44 345.03,242.67 345.46,242.93 345.88,242.75 346.31,242.26 346.74,241.71 347.17,242.28 347.60,242.88 348.02,243.22 348.45,242.71 348.88,242.85 349.31,242.50 349.74,243.21 350.16,243.24 350.59,243.70 351.02,242.94 351.45,242.76 351.88,241.92 352.30,242.38 352.73,242.59 353.16,243.07 353.59,243.29 354.02,243.02 354.44,243.04 354.87,242.94 355.30,243.46 355.73,243.62 356.16,242.89 356.58,242.63 357.01,242.72 357.44,243.21 357.87,242.44 358.30,242.58 358.72,242.79 359.15,243.55 359.58,243.67 360.01,243.31 360.44,243.09 360.86,242.40 361.29,242.96 361.72,242.78 362.15,243.01 362.58,242.78 363.00,243.36 363.43,243.62 363.86,243.06 364.29,242.84 364.72,242.27 365.14,242.79 365.57,242.76 366.00,243.06 366.43,242.81 366.86,242.76 367.28,242.63 367.71,242.86 368.14,242.30 368.57,241.99 369.00,241.86 369.42,242.51 369.85,243.28 370.28,243.07 370.71,242.49 371.14,242.03 371.56,242.18 371.99,242.25 372.42,241.89 372.85,241.74 373.28,242.21 373.70,241.95 374.13,242.76 374.56,242.27 374.99,242.65 375.42,241.86 375.84,241.48 376.27,241.11 376.70,241.86 377.13,243.20 377.56,243.45 377.98,243.40 378.41,242.77 378.84,242.76 379.27,243.00 379.70,243.78 380.12,244.00 380.55,243.37 380.98,242.67 381.41,242.75 381.84,243.09 382.26,243.57 382.69,243.65 383.12,243.69 383.55,243.74 383.98,243.48 384.40,243.14 384.83,242.38 385.26,242.93 385.69,243.16 386.12,243.68 386.54,243.65 386.97,243.33 387.40,243.25 387.83,242.78 388.26,242.73 388.68,241.67 389.11,242.33 389.54,242.12 389.97,242.92 390.40,242.40 390.82,243.28 391.25,243.41 391.68,243.13 392.11,242.62 392.54,242.42 392.96,242.80 393.39,242.34 393.82,242.38 394.25,243.09 394.68,243.78 395.10,244.51 395.53,244.91 395.96,244.85 396.39,243.61 396.82,242.38 397.24,242.62 397.67,243.47 398.10,243.06 398.53,242.56 398.96,242.19 399.38,242.64 399.81,242.68 400.24,242.40 400.67,242.17 401.10,242.10 401.52,242.80 401.95,242.81 402.38,243.15 402.81,242.35 403.24,243.02 403.66,242.81 404.09,243.22 404.52,243.24 404.95,242.55 405.38,242.00 405.80,241.68 406.23,242.03 406.66,242.44 407.09,243.24 407.52,243.44 407.94,243.60 408.37,242.59 408.80,243.09 409.23,243.17 409.66,243.26 410.08,242.42 410.51,242.19 410.94,242.13 411.37,242.00 411.80,242.33 412.22,242.47 412.65,243.73 413.08,242.93 413.51,242.43 413.94,241.40 414.36,241.74 414.79,242.06 415.22,242.32 415.65,242.67 416.08,242.78 416.50,242.84 416.93,242.18 417.36,241.90 417.79,241.94 418.22,242.72 418.64,243.17 419.07,242.55 419.50,242.14 419.93,241.88 420.36,242.61 420.78,243.21 421.21,243.26 421.64,242.81 422.07,242.54 422.50,242.60 422.92,243.01 423.35,242.82 423.78,243.33 424.21,243.34 424.64,243.70 425.06,242.77 425.49,242.97 425.92,242.43 426.35,242.20 426.78,242.02 427.20,242.47 427.63,242.96 428.06,242.85 428.49,242.99 428.92,242.89 429.34,242.14 429.77,241.86 430.20,242.11 430.63,243.26 431.06,243.04 431.48,243.43 431.91,243.46 432.34,243.10 432.77,242.97 433.20,242.15 433.62,242.06 434.05,241.62 434.48,241.82 434.91,241.66 435.34,241.83 435.76,242.26 436.19,243.50 436.62,243.41 437.05,242.63 437.48,241.76 437.90,242.13 438.33,243.01 438.76,243.56 439.19,243.09 439.62,242.85 440.04,242.58 440.47,242.58 440.90,242.61 441.33,242.71 441.76,242.74 442.18,242.66 442.61,242.46 443.04,241.84 443.47,241.58 443.90,241.75 444.32,243.08 444.75,243.16 445.18,243.91 445.61,243.80 446.04,243.63 446.46,242.64 446.89,242.17 447.32,243.13 447.75,243.53 448.18,243.73 448.60,242.85 449.03,241.86 449.46,241.53 449.89,242.06 450.32,243.34 450.74,243.44 451.17,243.22 451.60,243.21 452.03,243.15 452.46,243.51 452.88,242.66 453.31,242.31 453.74,241.47 454.17,242.07 454.60,242.27 455.02,242.73 455.45,242.70 455.88,243.02 456.31,243.45 456.74,243.85 457.16,243.42 457.59,243.01 458.02,242.39 458.45,242.31 458.88,242.89 459.30,243.26 459.73,243.57 460.16,242.77 460.59,242.62 461.02,242.30 461.44,242.37 461.87,242.68 462.30,243.42 462.73,243.19 463.16,242.57 463.58,242.93 464.01,242.73 464.44,242.68 464.87,241.46 465.30,242.11 465.72,242.45 466.15,243.37 466.58,242.28 467.01,242.23 467.44,241.21 467.86,242.41 468.29,242.28 468.72,243.50 469.15,243.40 469.58,243.09 470.00,242.94 470.43,242.39 470.86,242.63 471.29,242.56 471.72,243.15 472.14,243.44 472.57,243.07 473.00,243.08 473.43,243.22 473.86,243.32 474.28,243.50 474.71,243.68 475.14,243.58 475.57,242.86 476.00,242.95 476.42,242.93 476.85,243.51 477.28,243.30 477.71,242.98 478.14,242.93 478.56,242.01 478.99,242.62 479.42,242.28 479.85,242.93 480.28,242.92 480.70,242.84 481.13,242.81 481.56,242.31 481.99,242.54 482.42,242.89 482.84,243.16 483.27,243.12 483.70,242.35 484.13,242.65 484.56,242.69 484.98,243.69 485.41,243.11 485.84,243.50 486.27,243.53 486.70,243.80 487.12,242.98 487.55,242.87 487.98,243.26 488.41,243.95 488.84,243.80 489.26,243.25 489.69,243.28 490.12,243.12 490.55,243.05 490.98,243.03 491.40,242.60 491.83,243.18 492.26,243.35 492.69,244.20 493.12,243.14 493.54,242.80 493.97,242.03 494.40,242.73 494.83,242.55 495.26,242.63 495.68,241.90 496.11,242.35 496.54,242.95 496.97,244.04 497.40,244.16 497.82,243.29 498.25,242.61 498.68,242.47 499.11,243.27 499.54,243.71 499.96,242.83 500.39,243.36 500.82,243.03 501.25,243.96 501.68,242.51 502.10,243.11 502.53,242.81 502.96,243.77 503.39,243.73 503.82,243.10 504.24,242.23 504.67,242.02 505.10,242.86 505.53,243.88 505.96,243.88 506.38,243.56 506.81,242.88 507.24,242.77 507.67,243.18 508.10,243.17 508.52,243.15 508.95,242.25 509.38,241.53 509.81,241.56 510.24,242.33 510.66,243.06 511.09,243.23 511.52,243.22 511.95,243.22 512.38,243.38 512.80,242.88 513.23,242.90 513.66,242.41 514.09,242.71 514.52,242.94 514.94,243.39 515.37,243.41 515.80,243.34 516.23,242.90 516.66,242.81 517.08,243.12 517.51,243.18 517.94,243.68 518.37,243.40 518.80,243.54 519.22,243.81 519.65,243.55 520.08,243.38 520.51,242.66 520.94,242.86 521.36,243.05 521.79,243.36 522.22,243.30 522.65,243.37 523.08,242.97 523.50,243.32 523.93,243.02 524.36,243.00 524.79,242.60 525.22,242.86 525.64,242.70 526.07,243.27 526.50,243.11" fill="none" stroke="#0072bd" stroke-width="1.45" stroke-linejoin="round"/>
<rect x="312.5" y="190.7" width="214" height="134.8" fill="none" stroke="#c8c8c8" stroke-width="0.6"/>
<line x1="312.5" y1="325.5" x2="312.5" y2="324" stroke="#c8c8c8" stroke-width="0.5"/>
<text transform="translate(312.5,332) scale(0.8,1)" text-anchor="middle" class="tk">0</text>
<line x1="333.9" y1="325.5" x2="333.9" y2="324" stroke="#c8c8c8" stroke-width="0.5"/>
<text transform="translate(333.9,332) scale(0.8,1)" text-anchor="middle" class="tk">100</text>
<line x1="355.3" y1="325.5" x2="355.3" y2="324" stroke="#c8c8c8" stroke-width="0.5"/>
<text transform="translate(355.3,332) scale(0.8,1)" text-anchor="middle" class="tk">200</text>
<line x1="376.7" y1="325.5" x2="376.7" y2="324" stroke="#c8c8c8" stroke-width="0.5"/>
<text transform="translate(376.7,332) scale(0.8,1)" text-anchor="middle" class="tk">300</text>
<line x1="398.1" y1="325.5" x2="398.1" y2="324" stroke="#c8c8c8" stroke-width="0.5"/>
<text transform="translate(398.1,332) scale(0.8,1)" text-anchor="middle" class="tk">400</text>
<line x1="419.5" y1="325.5" x2="419.5" y2="324" stroke="#c8c8c8" stroke-width="0.5"/>
<text transform="translate(419.5,332) scale(0.8,1)" text-anchor="middle" class="tk">500</text>
<line x1="440.9" y1="325.5" x2="440.9" y2="324" stroke="#c8c8c8" stroke-width="0.5"/>
<text transform="translate(440.9,332) scale(0.8,1)" text-anchor="middle" class="tk">600</text>
<line x1="462.3" y1="325.5" x2="462.3" y2="324" stroke="#c8c8c8" stroke-width="0.5"/>
<text transform="translate(462.3,332) scale(0.8,1)" text-anchor="middle" class="tk">700</text>
<line x1="483.7" y1="325.5" x2="483.7" y2="324" stroke="#c8c8c8" stroke-width="0.5"/>
<text transform="translate(483.7,332) scale(0.8,1)" text-anchor="middle" class="tk">800</text>
<line x1="505.1" y1="325.5" x2="505.1" y2="324" stroke="#c8c8c8" stroke-width="0.5"/>
<text transform="translate(505.1,332) scale(0.8,1)" text-anchor="middle" class="tk">900</text>
<line x1="526.5" y1="325.5" x2="526.5" y2="324" stroke="#c8c8c8" stroke-width="0.5"/>
<text transform="translate(526.5,332) scale(0.8,1)" text-anchor="middle" class="tk">1000</text>
<text x="419.5" y="338" text-anchor="middle" class="lb"><tspan font-style="italic">t</tspan> [s]</text>
<text transform="translate(310.8,327.5) scale(0.8,1)" text-anchor="end" class="tk">10<tspan dy="-2.0" font-size="3.9px">−3</tspan></text>
<text transform="translate(310.8,305.03) scale(0.8,1)" text-anchor="end" class="tk">10<tspan dy="-2.0" font-size="3.9px">−2</tspan></text>
<text transform="translate(310.8,282.57) scale(0.8,1)" text-anchor="end" class="tk">10<tspan dy="-2.0" font-size="3.9px">−1</tspan></text>
<text transform="translate(310.8,260.1) scale(0.8,1)" text-anchor="end" class="tk">10<tspan dy="-2.0" font-size="3.9px">0</tspan></text>
<text transform="translate(310.8,237.63) scale(0.8,1)" text-anchor="end" class="tk">10<tspan dy="-2.0" font-size="3.9px">1</tspan></text>
<text transform="translate(310.8,215.17) scale(0.8,1)" text-anchor="end" class="tk">10<tspan dy="-2.0" font-size="3.9px">2</tspan></text>
<text transform="translate(310.8,192.7) scale(0.8,1)" text-anchor="end" class="tk">10<tspan dy="-2.0" font-size="3.9px">3</tspan></text>
<text transform="translate(299.6,258.1) rotate(-90)" text-anchor="middle" class="lb">PAE [deg]</text>
<rect x="446.2" y="193.2" width="77.5" height="13.1" fill="#fff" stroke="#c8c8c8" stroke-width="0.5"/>
<line x1="447.8" y1="197.1" x2="458.9" y2="197.1" stroke="#0072bd" stroke-width="1.2"/>
<line x1="447.8" y1="202.7" x2="458.9" y2="202.7" stroke="#d95319" stroke-width="1.2"/>
<text x="459.8" y="198.8" class="lg">PAE for propagation method 2</text>
<text x="459.8" y="204.4" class="lg">average PAE 4.67 deg</text>
<text x="340.5" y="360" textLength="148.3" lengthAdjust="spacingAndGlyphs" class="cap">(<tspan font-weight="bold">d</tspan>) PAE for propagation method 2.</text>
<line x1="55.15" y1="374.4" x2="55.15" y2="509.8" stroke="#ececec" stroke-width="0.5"/>
<line x1="76.6" y1="374.4" x2="76.6" y2="509.8" stroke="#ececec" stroke-width="0.5"/>
<line x1="98.05" y1="374.4" x2="98.05" y2="509.8" stroke="#ececec" stroke-width="0.5"/>
<line x1="119.5" y1="374.4" x2="119.5" y2="509.8" stroke="#ececec" stroke-width="0.5"/>
<line x1="140.95" y1="374.4" x2="140.95" y2="509.8" stroke="#ececec" stroke-width="0.5"/>
<line x1="162.4" y1="374.4" x2="162.4" y2="509.8" stroke="#ececec" stroke-width="0.5"/>
<line x1="183.85" y1="374.4" x2="183.85" y2="509.8" stroke="#ececec" stroke-width="0.5"/>
<line x1="205.3" y1="374.4" x2="205.3" y2="509.8" stroke="#ececec" stroke-width="0.5"/>
<line x1="226.75" y1="374.4" x2="226.75" y2="509.8" stroke="#ececec" stroke-width="0.5"/>
<line x1="33.7" y1="496.26" x2="248.2" y2="496.26" stroke="#ececec" stroke-width="0.5"/>
<line x1="33.7" y1="482.72" x2="248.2" y2="482.72" stroke="#ececec" stroke-width="0.5"/>
<line x1="33.7" y1="469.18" x2="248.2" y2="469.18" stroke="#ececec" stroke-width="0.5"/>
<line x1="33.7" y1="455.64" x2="248.2" y2="455.64" stroke="#ececec" stroke-width="0.5"/>
<line x1="33.7" y1="442.1" x2="248.2" y2="442.1" stroke="#ececec" stroke-width="0.5"/>
<line x1="33.7" y1="428.56" x2="248.2" y2="428.56" stroke="#ececec" stroke-width="0.5"/>
<line x1="33.7" y1="415.02" x2="248.2" y2="415.02" stroke="#ececec" stroke-width="0.5"/>
<line x1="33.7" y1="401.48" x2="248.2" y2="401.48" stroke="#ececec" stroke-width="0.5"/>
<line x1="33.7" y1="387.94" x2="248.2" y2="387.94" stroke="#ececec" stroke-width="0.5"/>
<rect x="33.7" y="442.1" width="214.5" height="67.7" fill="#0072bd"/>
<line x1="34.2" y1="374.4" x2="34.2" y2="442.1" stroke="#2a84c7" stroke-width="1.3"/>
<line x1="33.7" y1="479.5" x2="248.2" y2="479.5" stroke="#d95319" stroke-width="1.0"/>
<rect x="33.7" y="374.4" width="214.5" height="135.4" fill="none" stroke="#c8c8c8" stroke-width="0.6"/>
<line x1="33.7" y1="509.8" x2="33.7" y2="508.3" stroke="#c8c8c8" stroke-width="0.5"/>
<text transform="translate(33.7,515.6) scale(0.8,1)" text-anchor="middle" class="tk">0</text>
<line x1="55.15" y1="509.8" x2="55.15" y2="508.3" stroke="#c8c8c8" stroke-width="0.5"/>
<text transform="translate(55.15,515.6) scale(0.8,1)" text-anchor="middle" class="tk">100</text>
<line x1="76.6" y1="509.8" x2="76.6" y2="508.3" stroke="#c8c8c8" stroke-width="0.5"/>
<text transform="translate(76.6,515.6) scale(0.8,1)" text-anchor="middle" class="tk">200</text>
<line x1="98.05" y1="509.8" x2="98.05" y2="508.3" stroke="#c8c8c8" stroke-width="0.5"/>
<text transform="translate(98.05,515.6) scale(0.8,1)" text-anchor="middle" class="tk">300</text>
<line x1="119.5" y1="509.8" x2="119.5" y2="508.3" stroke="#c8c8c8" stroke-width="0.5"/>
<text transform="translate(119.5,515.6) scale(0.8,1)" text-anchor="middle" class="tk">400</text>
<line x1="140.95" y1="509.8" x2="140.95" y2="508.3" stroke="#c8c8c8" stroke-width="0.5"/>
<text transform="translate(140.95,515.6) scale(0.8,1)" text-anchor="middle" class="tk">500</text>
<line x1="162.4" y1="509.8" x2="162.4" y2="508.3" stroke="#c8c8c8" stroke-width="0.5"/>
<text transform="translate(162.4,515.6) scale(0.8,1)" text-anchor="middle" class="tk">600</text>
<line x1="183.85" y1="509.8" x2="183.85" y2="508.3" stroke="#c8c8c8" stroke-width="0.5"/>
<text transform="translate(183.85,515.6) scale(0.8,1)" text-anchor="middle" class="tk">700</text>
<line x1="205.3" y1="509.8" x2="205.3" y2="508.3" stroke="#c8c8c8" stroke-width="0.5"/>
<text transform="translate(205.3,515.6) scale(0.8,1)" text-anchor="middle" class="tk">800</text>
<line x1="226.75" y1="509.8" x2="226.75" y2="508.3" stroke="#c8c8c8" stroke-width="0.5"/>
<text transform="translate(226.75,515.6) scale(0.8,1)" text-anchor="middle" class="tk">900</text>
<line x1="248.2" y1="509.8" x2="248.2" y2="508.3" stroke="#c8c8c8" stroke-width="0.5"/>
<text transform="translate(248.2,515.6) scale(0.8,1)" text-anchor="middle" class="tk">1000</text>
<text x="140.95" y="521.6" text-anchor="middle" class="lb"><tspan font-style="italic">t</tspan> [s]</text>
<text transform="translate(32.2,511.6) scale(0.8,1)" text-anchor="end" class="tk">0</text>
<text transform="translate(32.2,498.06) scale(0.8,1)" text-anchor="end" class="tk">0.2</text>
<text transform="translate(32.2,484.52) scale(0.8,1)" text-anchor="end" class="tk">0.4</text>
<text transform="translate(32.2,470.98) scale(0.8,1)" text-anchor="end" class="tk">0.6</text>
<text transform="translate(32.2,457.44) scale(0.8,1)" text-anchor="end" class="tk">0.8</text>
<text transform="translate(32.2,443.9) scale(0.8,1)" text-anchor="end" class="tk">1</text>
<text transform="translate(32.2,430.36) scale(0.8,1)" text-anchor="end" class="tk">1.2</text>
<text transform="translate(32.2,416.82) scale(0.8,1)" text-anchor="end" class="tk">1.4</text>
<text transform="translate(32.2,403.28) scale(0.8,1)" text-anchor="end" class="tk">1.6</text>
<text transform="translate(32.2,389.74) scale(0.8,1)" text-anchor="end" class="tk">1.8</text>
<text transform="translate(32.2,376.2) scale(0.8,1)" text-anchor="end" class="tk">2</text>
<text transform="translate(24.1,442.1) rotate(-90)" text-anchor="middle" class="lb">number of iterations</text>
<rect x="157.8" y="377.2" width="87.2" height="12.1" fill="#fff" stroke="#c8c8c8" stroke-width="0.5"/>
<line x1="159.1" y1="380.5" x2="170.2" y2="380.5" stroke="#0072bd" stroke-width="1.2"/>
<line x1="159.1" y1="386.3" x2="170.2" y2="386.3" stroke="#d95319" stroke-width="1.2"/>
<text x="171.4" y="382.2" class="lg">Iterations for propagation method 3</text>
<text x="171.4" y="388" class="lg">average number of iterations 0.441</text>
<text x="6.9" y="543.4" textLength="257.7" lengthAdjust="spacingAndGlyphs" class="cap">(<tspan font-weight="bold">e</tspan>) Number of iterations required for propagation method 3.</text>
<line x1="336" y1="374.4" x2="336" y2="509.2" stroke="#ececec" stroke-width="0.5"/>
<line x1="357.4" y1="374.4" x2="357.4" y2="509.2" stroke="#ececec" stroke-width="0.5"/>
<line x1="378.8" y1="374.4" x2="378.8" y2="509.2" stroke="#ececec" stroke-width="0.5"/>
<line x1="400.2" y1="374.4" x2="400.2" y2="509.2" stroke="#ececec" stroke-width="0.5"/>
<line x1="421.6" y1="374.4" x2="421.6" y2="509.2" stroke="#ececec" stroke-width="0.5"/>
<line x1="443" y1="374.4" x2="443" y2="509.2" stroke="#ececec" stroke-width="0.5"/>
<line x1="464.4" y1="374.4" x2="464.4" y2="509.2" stroke="#ececec" stroke-width="0.5"/>
<line x1="485.8" y1="374.4" x2="485.8" y2="509.2" stroke="#ececec" stroke-width="0.5"/>
<line x1="507.2" y1="374.4" x2="507.2" y2="509.2" stroke="#ececec" stroke-width="0.5"/>
<line x1="314.6" y1="502.44" x2="528.6" y2="502.44" stroke="#f4f4f4" stroke-width="0.4"/>
<line x1="314.6" y1="498.48" x2="528.6" y2="498.48" stroke="#f4f4f4" stroke-width="0.4"/>
<line x1="314.6" y1="495.67" x2="528.6" y2="495.67" stroke="#f4f4f4" stroke-width="0.4"/>
<line x1="314.6" y1="493.5" x2="528.6" y2="493.5" stroke="#f4f4f4" stroke-width="0.4"/>
<line x1="314.6" y1="491.72" x2="528.6" y2="491.72" stroke="#f4f4f4" stroke-width="0.4"/>
<line x1="314.6" y1="490.21" x2="528.6" y2="490.21" stroke="#f4f4f4" stroke-width="0.4"/>
<line x1="314.6" y1="488.91" x2="528.6" y2="488.91" stroke="#f4f4f4" stroke-width="0.4"/>
<line x1="314.6" y1="487.76" x2="528.6" y2="487.76" stroke="#f4f4f4" stroke-width="0.4"/>
<line x1="314.6" y1="479.97" x2="528.6" y2="479.97" stroke="#f4f4f4" stroke-width="0.4"/>
<line x1="314.6" y1="476.01" x2="528.6" y2="476.01" stroke="#f4f4f4" stroke-width="0.4"/>
<line x1="314.6" y1="473.21" x2="528.6" y2="473.21" stroke="#f4f4f4" stroke-width="0.4"/>
<line x1="314.6" y1="471.03" x2="528.6" y2="471.03" stroke="#f4f4f4" stroke-width="0.4"/>
<line x1="314.6" y1="469.25" x2="528.6" y2="469.25" stroke="#f4f4f4" stroke-width="0.4"/>
<line x1="314.6" y1="467.75" x2="528.6" y2="467.75" stroke="#f4f4f4" stroke-width="0.4"/>
<line x1="314.6" y1="466.44" x2="528.6" y2="466.44" stroke="#f4f4f4" stroke-width="0.4"/>
<line x1="314.6" y1="465.29" x2="528.6" y2="465.29" stroke="#f4f4f4" stroke-width="0.4"/>
<line x1="314.6" y1="457.5" x2="528.6" y2="457.5" stroke="#f4f4f4" stroke-width="0.4"/>
<line x1="314.6" y1="453.55" x2="528.6" y2="453.55" stroke="#f4f4f4" stroke-width="0.4"/>
<line x1="314.6" y1="450.74" x2="528.6" y2="450.74" stroke="#f4f4f4" stroke-width="0.4"/>
<line x1="314.6" y1="448.56" x2="528.6" y2="448.56" stroke="#f4f4f4" stroke-width="0.4"/>
<line x1="314.6" y1="446.78" x2="528.6" y2="446.78" stroke="#f4f4f4" stroke-width="0.4"/>
<line x1="314.6" y1="445.28" x2="528.6" y2="445.28" stroke="#f4f4f4" stroke-width="0.4"/>
<line x1="314.6" y1="443.98" x2="528.6" y2="443.98" stroke="#f4f4f4" stroke-width="0.4"/>
<line x1="314.6" y1="442.83" x2="528.6" y2="442.83" stroke="#f4f4f4" stroke-width="0.4"/>
<line x1="314.6" y1="435.04" x2="528.6" y2="435.04" stroke="#f4f4f4" stroke-width="0.4"/>
<line x1="314.6" y1="431.08" x2="528.6" y2="431.08" stroke="#f4f4f4" stroke-width="0.4"/>
<line x1="314.6" y1="428.27" x2="528.6" y2="428.27" stroke="#f4f4f4" stroke-width="0.4"/>
<line x1="314.6" y1="426.1" x2="528.6" y2="426.1" stroke="#f4f4f4" stroke-width="0.4"/>
<line x1="314.6" y1="424.32" x2="528.6" y2="424.32" stroke="#f4f4f4" stroke-width="0.4"/>
<line x1="314.6" y1="422.81" x2="528.6" y2="422.81" stroke="#f4f4f4" stroke-width="0.4"/>
<line x1="314.6" y1="421.51" x2="528.6" y2="421.51" stroke="#f4f4f4" stroke-width="0.4"/>
<line x1="314.6" y1="420.36" x2="528.6" y2="420.36" stroke="#f4f4f4" stroke-width="0.4"/>
<line x1="314.6" y1="412.57" x2="528.6" y2="412.57" stroke="#f4f4f4" stroke-width="0.4"/>
<line x1="314.6" y1="408.61" x2="528.6" y2="408.61" stroke="#f4f4f4" stroke-width="0.4"/>
<line x1="314.6" y1="405.81" x2="528.6" y2="405.81" stroke="#f4f4f4" stroke-width="0.4"/>
<line x1="314.6" y1="403.63" x2="528.6" y2="403.63" stroke="#f4f4f4" stroke-width="0.4"/>
<line x1="314.6" y1="401.85" x2="528.6" y2="401.85" stroke="#f4f4f4" stroke-width="0.4"/>
<line x1="314.6" y1="400.35" x2="528.6" y2="400.35" stroke="#f4f4f4" stroke-width="0.4"/>
<line x1="314.6" y1="399.04" x2="528.6" y2="399.04" stroke="#f4f4f4" stroke-width="0.4"/>
<line x1="314.6" y1="397.89" x2="528.6" y2="397.89" stroke="#f4f4f4" stroke-width="0.4"/>
<line x1="314.6" y1="390.1" x2="528.6" y2="390.1" stroke="#f4f4f4" stroke-width="0.4"/>
<line x1="314.6" y1="386.15" x2="528.6" y2="386.15" stroke="#f4f4f4" stroke-width="0.4"/>
<line x1="314.6" y1="383.34" x2="528.6" y2="383.34" stroke="#f4f4f4" stroke-width="0.4"/>
<line x1="314.6" y1="381.16" x2="528.6" y2="381.16" stroke="#f4f4f4" stroke-width="0.4"/>
<line x1="314.6" y1="379.38" x2="528.6" y2="379.38" stroke="#f4f4f4" stroke-width="0.4"/>
<line x1="314.6" y1="377.88" x2="528.6" y2="377.88" stroke="#f4f4f4" stroke-width="0.4"/>
<line x1="314.6" y1="376.58" x2="528.6" y2="376.58" stroke="#f4f4f4" stroke-width="0.4"/>
<line x1="314.6" y1="375.43" x2="528.6" y2="375.43" stroke="#f4f4f4" stroke-width="0.4"/>
<line x1="314.6" y1="486.73" x2="528.6" y2="486.73" stroke="#ececec" stroke-width="0.5"/>
<line x1="314.6" y1="464.27" x2="528.6" y2="464.27" stroke="#ececec" stroke-width="0.5"/>
<line x1="314.6" y1="441.8" x2="528.6" y2="441.8" stroke="#ececec" stroke-width="0.5"/>
<line x1="314.6" y1="419.33" x2="528.6" y2="419.33" stroke="#ececec" stroke-width="0.5"/>
<line x1="314.6" y1="396.87" x2="528.6" y2="396.87" stroke="#ececec" stroke-width="0.5"/>
<polygon points="317.92,443.41 318.57,443.74 319.22,443.67 319.87,443.53 320.52,443.12 321.17,443.71 321.82,443.14 322.47,443.45 323.12,442.14 323.77,441.83 324.42,443.29 325.07,442.35 325.72,442.59 326.37,443.75 327.02,441.76 327.67,442.69 328.32,443.88 328.97,439.22 329.62,443.53 330.27,441.86 330.92,442.16 331.57,443.15 332.22,442.19 332.87,443.54 333.52,443.69 334.17,440.39 334.82,441.71 335.47,443.94 336.12,443.74 336.77,442.21 337.42,443.06 338.07,443.46 338.72,443.51 339.37,443.93 340.02,442.61 340.67,442.94 341.32,444.02 341.97,440.53 342.62,443.22 343.27,442.49 343.92,443.50 344.57,443.64 345.22,443.56 345.87,442.60 346.52,441.64 347.17,443.23 347.82,444.02 348.47,443.64 349.12,441.55 349.77,443.55 350.42,443.20 351.07,442.80 351.72,440.72 352.37,443.60 353.02,442.75 353.67,441.54 354.32,443.20 354.97,444.08 355.62,442.96 356.27,439.96 356.92,443.91 357.57,443.29 358.22,443.08 358.87,441.55 359.52,442.40 360.17,443.63 360.82,441.93 361.47,442.92 362.12,443.29 362.77,444.04 363.42,442.74 364.07,441.16 364.72,443.86 365.37,444.03 366.02,443.80 366.67,442.09 367.32,444.05 367.97,441.90 368.62,442.65 369.27,443.82 369.92,443.80 370.57,442.92 371.22,442.53 371.87,441.84 372.52,442.73 373.17,443.59 373.82,443.11 374.47,441.82 375.12,442.54 375.77,443.36 376.42,443.36 377.07,443.39 377.72,442.56 378.37,443.74 379.02,442.46 379.67,442.73 380.32,442.82 380.97,443.79 381.62,443.05 382.27,443.09 382.92,443.71 383.57,442.72 384.22,443.99 384.87,443.57 385.52,442.73 386.17,443.15 386.82,443.44 387.47,442.28 388.12,440.74 388.77,441.10 389.42,444.01 390.07,443.77 390.72,441.80 391.37,443.91 392.02,440.28 392.67,443.92 393.32,443.42 393.97,442.86 394.62,441.63 395.27,441.94 395.92,443.10 396.57,442.96 397.22,443.89 397.87,443.78 398.52,443.17 399.17,443.60 399.82,443.35 400.47,442.76 401.12,443.56 401.77,442.56 402.42,442.40 403.07,444.06 403.72,442.99 404.37,443.57 405.02,443.77 405.67,443.05 406.32,441.71 406.97,442.54 407.62,441.98 408.27,440.30 408.92,442.67 409.57,442.21 410.22,443.03 410.87,441.01 411.52,443.75 412.17,443.55 412.82,442.28 413.47,443.36 414.12,443.09 414.77,443.34 415.42,441.21 416.07,441.54 416.72,443.25 417.37,443.07 418.02,441.06 418.67,443.14 419.32,443.81 419.97,443.45 420.62,443.08 421.27,443.59 421.92,441.56 422.57,443.55 423.22,442.99 423.87,443.60 424.52,443.19 425.17,443.59 425.82,440.64 426.47,442.27 427.12,443.72 427.77,442.43 428.42,441.13 429.07,444.07 429.72,441.40 430.37,442.76 431.02,442.29 431.67,443.35 432.32,443.98 432.97,441.10 433.62,443.59 434.27,441.83 434.92,443.65 435.57,443.94 436.22,443.63 436.87,441.70 437.52,443.29 438.17,443.18 438.82,441.58 439.47,444.06 440.12,438.94 440.77,441.13 441.42,442.12 442.07,443.04 442.72,443.09 443.37,441.94 444.02,444.02 444.67,444.00 445.32,443.66 445.97,443.96 446.62,441.60 447.27,443.97 447.92,442.47 448.57,443.54 449.22,440.68 449.87,444.00 450.52,443.74 451.17,443.30 451.82,443.04 452.47,442.43 453.12,443.79 453.77,442.72 454.42,443.70 455.07,443.92 455.72,441.77 456.37,443.08 457.02,443.98 457.67,443.32 458.32,441.86 458.97,441.17 459.62,443.09 460.27,443.31 460.92,443.10 461.57,443.19 462.22,442.01 462.87,441.74 463.52,442.97 464.17,443.66 464.82,443.10 465.47,443.29 466.12,442.72 466.77,440.98 467.42,443.54 468.07,441.85 468.72,443.13 469.37,443.54 470.02,443.63 470.67,441.72 471.32,443.80 471.97,440.51 472.62,442.97 473.27,442.72 473.92,442.27 474.57,443.45 475.22,443.13 475.87,441.13 476.52,443.05 477.17,443.93 477.82,443.56 478.47,443.94 479.12,443.15 479.77,444.04 480.42,442.25 481.07,443.46 481.72,443.51 482.37,443.49 483.02,441.92 483.67,443.85 484.32,443.71 484.97,443.79 485.62,442.06 486.27,441.65 486.92,443.94 487.57,442.28 488.22,441.54 488.87,443.68 489.52,443.97 490.17,443.02 490.82,443.96 491.47,443.14 492.12,443.27 492.77,443.01 493.42,444.04 494.07,442.63 494.72,440.24 495.37,442.59 496.02,443.40 496.67,442.84 497.32,442.92 497.97,442.38 498.62,443.37 499.27,444.06 499.92,442.63 500.57,442.66 501.22,443.39 501.87,440.95 502.52,441.93 503.17,443.48 503.82,443.88 504.47,443.82 505.12,441.44 505.77,443.40 506.42,442.90 507.07,443.27 507.72,443.98 508.37,442.77 509.02,443.15 509.67,443.23 510.32,442.35 510.97,442.90 511.62,441.93 512.27,443.77 512.92,442.36 513.57,443.38 514.22,442.69 514.87,443.20 515.52,443.86 516.17,440.37 516.82,442.95 517.47,443.35 518.12,443.97 518.77,441.24 519.42,442.28 520.07,443.37 520.72,441.49 521.37,443.68 522.02,444.08 522.67,443.94 523.32,442.12 523.97,443.62 524.62,442.88 525.27,442.45 525.92,442.80 526.57,440.96 527.22,442.94 527.87,443.72 528.52,443.87 528.52,463.48 527.87,464.51 527.22,464.51 526.57,462.71 525.92,462.71 525.27,457.28 524.62,457.28 523.97,469.00 523.32,461.20 522.67,461.20 522.02,457.38 521.37,455.26 520.72,455.26 520.07,453.65 519.42,454.56 518.77,463.18 518.12,463.18 517.47,455.71 516.82,458.29 516.17,458.29 515.52,463.53 514.87,463.53 514.22,457.78 513.57,457.78 512.92,460.91 512.27,463.62 511.62,463.62 510.97,462.33 510.32,461.53 509.67,455.54 509.02,456.60 508.37,456.60 507.72,460.97 507.07,460.97 506.42,453.79 505.77,459.22 505.12,461.76 504.47,461.76 503.82,456.37 503.17,463.95 502.52,463.95 501.87,455.66 501.22,455.66 500.57,457.90 499.92,457.90 499.27,454.04 498.62,462.61 497.97,466.85 497.32,466.85 496.67,460.67 496.02,454.75 495.37,455.35 494.72,461.66 494.07,463.47 493.42,463.47 492.77,464.47 492.12,464.47 491.47,464.61 490.82,464.61 490.17,462.34 489.52,462.34 488.87,461.82 488.22,458.87 487.57,463.44 486.92,463.44 486.27,456.08 485.62,454.81 484.97,454.81 484.32,464.44 483.67,464.44 483.02,462.86 482.37,459.98 481.72,454.85 481.07,456.05 480.42,462.54 479.77,462.54 479.12,462.52 478.47,465.08 477.82,465.08 477.17,459.83 476.52,459.83 475.87,464.96 475.22,464.96 474.57,455.26 473.92,456.14 473.27,456.14 472.62,456.07 471.97,455.04 471.32,455.61 470.67,459.63 470.02,459.63 469.37,457.76 468.72,456.75 468.07,462.10 467.42,462.10 466.77,457.59 466.12,457.59 465.47,455.35 464.82,458.11 464.17,485.00 463.52,457.78 462.87,465.20 462.22,465.20 461.57,455.15 460.92,462.64 460.27,462.64 459.62,466.26 458.97,466.26 458.32,455.04 457.67,458.22 457.02,458.22 456.37,458.06 455.72,454.83 455.07,463.43 454.42,463.43 453.77,457.71 453.12,462.95 452.47,462.95 451.82,454.60 451.17,455.93 450.52,457.66 449.87,459.12 449.22,464.57 448.57,464.57 447.92,453.63 447.27,458.56 446.62,462.06 445.97,463.05 445.32,463.66 444.67,463.66 444.02,455.41 443.37,459.14 442.72,459.14 442.07,455.37 441.42,454.87 440.77,454.87 440.12,455.78 439.47,466.78 438.82,466.78 438.17,462.18 437.52,464.76 436.87,464.76 436.22,464.38 435.57,458.62 434.92,461.05 434.27,461.05 433.62,456.04 432.97,464.36 432.32,464.36 431.67,457.79 431.02,456.14 430.37,457.95 429.72,474.00 429.07,457.88 428.42,461.69 427.77,461.69 427.12,462.24 426.47,462.24 425.82,456.76 425.17,456.76 424.52,459.90 423.87,459.90 423.22,464.70 422.57,464.70 421.92,459.67 421.27,458.43 420.62,456.05 419.97,456.05 419.32,463.31 418.67,463.31 418.02,456.65 417.37,458.38 416.72,458.57 416.07,458.57 415.42,463.19 414.77,463.19 414.12,463.10 413.47,462.80 412.82,462.80 412.17,461.28 411.52,457.61 410.87,457.61 410.22,453.79 409.57,453.55 408.92,457.31 408.27,457.31 407.62,460.40 406.97,460.40 406.32,469.70 405.67,457.42 405.02,459.46 404.37,463.05 403.72,463.05 403.07,462.98 402.42,454.43 401.77,454.36 401.12,457.65 400.47,457.65 399.82,460.60 399.17,460.60 398.52,460.32 397.87,463.59 397.22,463.59 396.57,456.76 395.92,460.18 395.27,460.18 394.62,456.77 393.97,455.18 393.32,457.87 392.67,461.46 392.02,475.20 391.37,459.53 390.72,456.69 390.07,458.75 389.42,459.61 388.77,465.40 388.12,465.40 387.47,455.85 386.82,455.85 386.17,455.06 385.52,455.53 384.87,455.53 384.22,455.37 383.57,465.44 382.92,465.44 382.27,463.61 381.62,463.61 380.97,454.09 380.32,455.51 379.67,455.51 379.02,454.72 378.37,455.98 377.72,463.43 377.07,463.43 376.42,460.64 375.77,463.66 375.12,463.66 374.47,458.83 373.82,458.83 373.17,464.95 372.52,464.95 371.87,458.27 371.22,453.88 370.57,457.34 369.92,457.34 369.27,468.70 368.62,461.57 367.97,461.57 367.32,454.81 366.67,455.68 366.02,462.10 365.37,462.10 364.72,461.05 364.07,467.70 363.42,457.02 362.77,463.99 362.12,463.99 361.47,462.13 360.82,462.13 360.17,456.74 359.52,456.74 358.87,455.09 358.22,454.67 357.57,459.06 356.92,459.06 356.27,454.79 355.62,455.63 354.97,455.63 354.32,463.04 353.67,463.04 353.02,456.44 352.37,457.00 351.72,457.00 351.07,466.20 350.42,465.32 349.77,465.32 349.12,456.91 348.47,460.12 347.82,465.27 347.17,465.27 346.52,461.69 345.87,461.69 345.22,462.97 344.57,462.97 343.92,456.46 343.27,455.49 342.62,455.49 341.97,458.61 341.32,458.61 340.67,455.75 340.02,455.87 339.37,455.87 338.72,455.16 338.07,456.48 337.42,456.48 336.77,457.71 336.12,457.71 335.47,454.16 334.82,456.30 334.17,456.30 333.52,461.33 332.87,465.99 332.22,465.99 331.57,455.63 330.92,455.63 330.27,457.09 329.62,474.94 328.97,474.94 328.32,456.74 327.67,459.20 327.02,459.20 326.37,456.01 325.72,456.01 325.07,474.40 324.42,464.83 323.77,464.83 323.12,457.65 322.47,457.65 321.82,458.94 321.17,458.94 320.52,467.00 319.87,462.53 319.22,458.60 318.57,467.57 317.92,467.57" fill="#0072bd" stroke="#0072bd" stroke-width="0.3" stroke-linejoin="round"/>
<polyline points="314.90,423.30 315.40,426.50 316.00,430.50 316.70,434.50 317.40,438.00 318.20,441.50 318.80,444.00" fill="none" stroke="#0072bd" stroke-width="1.3" stroke-linecap="round"/>
<line x1="314.6" y1="449.5" x2="528.6" y2="449.5" stroke="#d95319" stroke-width="1.0"/>
<rect x="314.6" y="374.4" width="214" height="134.8" fill="none" stroke="#c8c8c8" stroke-width="0.6"/>
<line x1="314.6" y1="509.2" x2="314.6" y2="507.7" stroke="#c8c8c8" stroke-width="0.5"/>
<text transform="translate(314.6,515.3) scale(0.8,1)" text-anchor="middle" class="tk">0</text>
<line x1="336" y1="509.2" x2="336" y2="507.7" stroke="#c8c8c8" stroke-width="0.5"/>
<text transform="translate(336,515.3) scale(0.8,1)" text-anchor="middle" class="tk">100</text>
<line x1="357.4" y1="509.2" x2="357.4" y2="507.7" stroke="#c8c8c8" stroke-width="0.5"/>
<text transform="translate(357.4,515.3) scale(0.8,1)" text-anchor="middle" class="tk">200</text>
<line x1="378.8" y1="509.2" x2="378.8" y2="507.7" stroke="#c8c8c8" stroke-width="0.5"/>
<text transform="translate(378.8,515.3) scale(0.8,1)" text-anchor="middle" class="tk">300</text>
<line x1="400.2" y1="509.2" x2="400.2" y2="507.7" stroke="#c8c8c8" stroke-width="0.5"/>
<text transform="translate(400.2,515.3) scale(0.8,1)" text-anchor="middle" class="tk">400</text>
<line x1="421.6" y1="509.2" x2="421.6" y2="507.7" stroke="#c8c8c8" stroke-width="0.5"/>
<text transform="translate(421.6,515.3) scale(0.8,1)" text-anchor="middle" class="tk">500</text>
<line x1="443" y1="509.2" x2="443" y2="507.7" stroke="#c8c8c8" stroke-width="0.5"/>
<text transform="translate(443,515.3) scale(0.8,1)" text-anchor="middle" class="tk">600</text>
<line x1="464.4" y1="509.2" x2="464.4" y2="507.7" stroke="#c8c8c8" stroke-width="0.5"/>
<text transform="translate(464.4,515.3) scale(0.8,1)" text-anchor="middle" class="tk">700</text>
<line x1="485.8" y1="509.2" x2="485.8" y2="507.7" stroke="#c8c8c8" stroke-width="0.5"/>
<text transform="translate(485.8,515.3) scale(0.8,1)" text-anchor="middle" class="tk">800</text>
<line x1="507.2" y1="509.2" x2="507.2" y2="507.7" stroke="#c8c8c8" stroke-width="0.5"/>
<text transform="translate(507.2,515.3) scale(0.8,1)" text-anchor="middle" class="tk">900</text>
<line x1="528.6" y1="509.2" x2="528.6" y2="507.7" stroke="#c8c8c8" stroke-width="0.5"/>
<text transform="translate(528.6,515.3) scale(0.8,1)" text-anchor="middle" class="tk">1000</text>
<text x="421.6" y="521.3" text-anchor="middle" class="lb"><tspan font-style="italic">t</tspan> [s]</text>
<text transform="translate(312.8,511.2) scale(0.8,1)" text-anchor="end" class="tk">10<tspan dy="-2.0" font-size="3.9px">−3</tspan></text>
<text transform="translate(312.8,488.73) scale(0.8,1)" text-anchor="end" class="tk">10<tspan dy="-2.0" font-size="3.9px">−2</tspan></text>
<text transform="translate(312.8,466.27) scale(0.8,1)" text-anchor="end" class="tk">10<tspan dy="-2.0" font-size="3.9px">−1</tspan></text>
<text transform="translate(312.8,443.8) scale(0.8,1)" text-anchor="end" class="tk">10<tspan dy="-2.0" font-size="3.9px">0</tspan></text>
<text transform="translate(312.8,421.33) scale(0.8,1)" text-anchor="end" class="tk">10<tspan dy="-2.0" font-size="3.9px">1</tspan></text>
<text transform="translate(312.8,398.87) scale(0.8,1)" text-anchor="end" class="tk">10<tspan dy="-2.0" font-size="3.9px">2</tspan></text>
<text transform="translate(312.8,376.4) scale(0.8,1)" text-anchor="end" class="tk">10<tspan dy="-2.0" font-size="3.9px">3</tspan></text>
<text transform="translate(301.9,441.8) rotate(-90)" text-anchor="middle" class="lb">PAE [deg]</text>
<rect x="448.1" y="377.2" width="77.6" height="12.1" fill="#fff" stroke="#c8c8c8" stroke-width="0.5"/>
<line x1="449.1" y1="380.5" x2="460.9" y2="380.5" stroke="#0072bd" stroke-width="1.2"/>
<line x1="449.1" y1="386.3" x2="460.9" y2="386.3" stroke="#d95319" stroke-width="1.2"/>
<text x="461.7" y="382.2" class="lg">PAE for propagation method 3</text>
<text x="461.7" y="388" class="lg">average PAE 0.464 deg</text>
<text x="343.6" y="543.4" textLength="145.7" lengthAdjust="spacingAndGlyphs" class="cap">(<tspan font-weight="bold">f</tspan>) PAE for propagation method 3.</text>
</g>
</svg>
</body></html>
